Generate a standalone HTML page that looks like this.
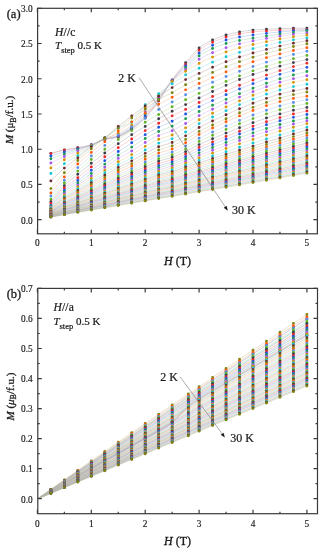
<!DOCTYPE html>
<html><head><meta charset="utf-8"><title>M vs H</title><style>html,body{margin:0;padding:0;background:#fff;width:322px;height:550px;overflow:hidden}svg{display:block}</style></head><body><svg width="322" height="550" viewBox="0 0 322 550" font-family="'Liberation Serif', 'Times New Roman', serif"><defs><filter id="bl" x="0" y="0" width="1" height="1" color-interpolation-filters="sRGB"><feGaussianBlur stdDeviation="0.35"/></filter></defs><g filter="url(#bl)"><rect width="322" height="550" fill="#fff"/><svg x="0" y="0" width="322" height="550" overflow="hidden"><defs><clipPath id="ca"><rect x="37.5" y="8.2" width="280" height="225.4"/></clipPath><clipPath id="cb"><rect x="37.7" y="288.2" width="279.8" height="225"/></clipPath></defs><g clip-path="url(#ca)"><g fill="none" stroke-width="0.5" stroke-opacity="0.8" opacity="0.5"><path d="M50.88 153.33C53.12 152.75 59.86 150.83 64.35 149.88C68.84 148.94 73.33 148.47 77.82 147.63C82.32 146.8 86.81 146.26 91.3 144.89C95.79 143.52 100.28 140.73 104.78 139.41C109.27 138.09 113.76 138.65 118.25 136.95C122.74 135.25 127.23 132.38 131.72 129.22C136.22 126.05 140.71 122.65 145.2 117.97C149.69 113.28 154.18 107.42 158.67 101.1C163.17 94.77 167.66 86.39 172.15 80.01C176.64 73.62 181.13 68.11 185.62 62.78C190.12 57.45 194.61 51.81 199.1 48.02C203.59 44.23 208.08 42.22 212.57 40.05C217.07 37.88 221.56 36.38 226.05 35.01C230.54 33.65 235.03 32.7 239.53 31.88C244.02 31.06 248.51 30.53 253 30.09C257.49 29.66 261.98 29.53 266.47 29.29C270.97 29.05 275.46 28.84 279.95 28.67C284.44 28.5 288.93 28.36 293.42 28.27C297.92 28.18 304.65 28.15 306.9 28.12" stroke="#3a3a46"/><path d="M50.88 153.61C53.12 153.02 59.86 151.02 64.35 150.1C68.84 149.17 73.33 148.92 77.82 148.06C82.32 147.2 86.81 146.41 91.3 144.94C95.79 143.47 100.28 140.62 104.78 139.23C109.27 137.84 113.76 138.31 118.25 136.6C122.74 134.88 127.23 132.18 131.72 128.96C136.22 125.73 140.71 121.99 145.2 117.27C149.69 112.54 154.18 106.76 158.67 100.58C163.17 94.4 167.66 86.19 172.15 80.18C176.64 74.18 181.13 69.54 185.62 64.54C190.12 59.54 194.61 53.91 199.1 50.2C203.59 46.48 208.08 44.43 212.57 42.25C217.07 40.07 221.56 38.52 226.05 37.12C230.54 35.72 235.03 34.71 239.53 33.85C244.02 32.98 248.51 32.4 253 31.92C257.49 31.44 261.98 31.26 266.47 30.98C270.97 30.71 275.46 30.45 279.95 30.25C284.44 30.05 288.93 29.88 293.42 29.77C297.92 29.66 304.65 29.63 306.9 29.6" stroke="#e8282c"/><path d="M50.88 155.93C53.12 155.29 59.86 153.27 64.35 152.06C68.84 150.86 73.33 149.86 77.82 148.69C82.32 147.52 86.81 146.64 91.3 145.03C95.79 143.43 100.28 140.52 104.78 139.06C109.27 137.59 113.76 138 118.25 136.25C122.74 134.49 127.23 131.91 131.72 128.51C136.22 125.12 140.71 120.66 145.2 115.86C149.69 111.06 154.18 105.61 158.67 99.69C163.17 93.77 167.66 85.98 172.15 80.36C176.64 74.73 181.13 70.46 185.62 65.95C190.12 61.44 194.61 56.74 199.1 53.29C203.59 49.84 208.08 47.48 212.57 45.25C217.07 43.02 221.56 41.31 226.05 39.94C230.54 38.56 235.03 37.82 239.53 37C244.02 36.18 248.51 35.62 253 35.01C257.49 34.41 261.98 33.88 266.47 33.36C270.97 32.85 275.46 32.34 279.95 31.91C284.44 31.48 288.93 31.08 293.42 30.77C297.92 30.47 304.65 30.21 306.9 30.09" stroke="#1f52e0"/><path d="M50.88 158.74C53.12 157.97 59.86 155.63 64.35 154.1C68.84 152.58 73.33 151.09 77.82 149.6C82.32 148.12 86.81 146.96 91.3 145.18C95.79 143.39 100.28 140.45 104.78 138.9C109.27 137.35 113.76 137.74 118.25 135.89C122.74 134.05 127.23 131.5 131.72 127.81C136.22 124.12 140.71 118.67 145.2 113.75C149.69 108.83 154.18 103.83 158.67 98.28C163.17 92.74 167.66 85.6 172.15 80.5C176.64 75.41 181.13 71.8 185.62 67.7C190.12 63.6 194.61 59.1 199.1 55.89C203.59 52.69 208.08 50.56 212.57 48.49C217.07 46.41 221.56 44.79 226.05 43.45C230.54 42.11 235.03 41.31 239.53 40.43C244.02 39.55 248.51 38.91 253 38.18C257.49 37.45 261.98 36.74 266.47 36.06C270.97 35.38 275.46 34.73 279.95 34.12C284.44 33.51 288.93 32.93 293.42 32.41C297.92 31.89 304.65 31.24 306.9 31.01" stroke="#1f9a52"/><path d="M50.88 162.96C53.12 161.88 59.86 158.51 64.35 156.49C68.84 154.48 73.33 152.72 77.82 150.87C82.32 149.02 86.81 147.41 91.3 145.38C95.79 143.36 100.28 140.35 104.78 138.71C109.27 137.07 113.76 137.48 118.25 135.54C122.74 133.61 127.23 131.09 131.72 127.11C136.22 123.12 140.71 116.68 145.2 111.64C149.69 106.6 154.18 102.03 158.67 96.88C163.17 91.72 167.66 85.28 172.15 80.71C176.64 76.14 181.13 73.03 185.62 69.46C190.12 65.89 194.61 62.07 199.1 59.27C203.59 56.46 208.08 54.56 212.57 52.63C217.07 50.69 221.56 49.13 226.05 47.67C230.54 46.21 235.03 45 239.53 43.87C244.02 42.75 248.51 41.83 253 40.92C257.49 40.01 261.98 39.21 266.47 38.42C270.97 37.62 275.46 36.85 279.95 36.16C284.44 35.47 288.93 34.83 293.42 34.28C297.92 33.74 304.65 33.13 306.9 32.91" stroke="#a656e6"/><path d="M50.88 167.88C53.12 166.52 59.86 162.19 64.35 159.73C68.84 157.27 73.33 155.46 77.82 153.12C82.32 150.78 86.81 148.13 91.3 145.67C95.79 143.21 100.28 140.39 104.78 138.36C109.27 136.32 113.76 135.66 118.25 133.43C122.74 131.21 127.23 129.22 131.72 125C136.22 120.78 140.71 113.05 145.2 108.13C149.69 103.2 154.18 99.92 158.67 95.47C163.17 91.02 167.66 85.45 172.15 81.41C176.64 77.37 181.13 74.22 185.62 71.22C190.12 68.22 194.61 65.77 199.1 63.42C203.59 61.06 208.08 59.01 212.57 57.09C217.07 55.17 221.56 53.43 226.05 51.89C230.54 50.34 235.03 49.04 239.53 47.81C244.02 46.58 248.51 45.53 253 44.5C257.49 43.48 261.98 42.55 266.47 41.64C270.97 40.72 275.46 39.84 279.95 39.03C284.44 38.22 288.93 37.45 293.42 36.78C297.92 36.11 304.65 35.31 306.9 35.01" stroke="#d09400"/><path d="M50.88 173.5C53.12 171.86 59.86 166.65 64.35 163.66C68.84 160.68 73.33 158.51 77.82 155.58C82.32 152.65 86.81 149.02 91.3 146.09C95.79 143.16 100.28 141.05 104.78 138C109.27 134.96 113.76 130.45 118.25 127.81C122.74 125.17 127.23 126.05 131.72 122.19C136.22 118.32 140.71 109.36 145.2 104.61C149.69 99.87 154.18 97.18 158.67 93.71C163.17 90.25 167.66 86.94 172.15 83.8C176.64 80.66 181.13 77.48 185.62 74.87C190.12 72.27 194.61 70.32 199.1 68.2C203.59 66.07 208.08 64.04 212.57 62.14C217.07 60.25 221.56 58.44 226.05 56.81C230.54 55.17 235.03 53.7 239.53 52.33C244.02 50.96 248.51 49.74 253 48.58C257.49 47.42 261.98 46.38 266.47 45.35C270.97 44.33 275.46 43.32 279.95 42.41C284.44 41.49 288.93 40.62 293.42 39.86C297.92 39.1 304.65 38.17 306.9 37.83" stroke="#16c6d0"/><path d="M50.88 180.89C53.12 178.75 59.86 171.93 64.35 168.09C68.84 164.25 73.33 161.38 77.82 157.83C82.32 154.28 86.81 150.15 91.3 146.79C95.79 143.43 100.28 141.05 104.78 137.65C109.27 134.25 113.76 130.04 118.25 126.4C122.74 122.77 127.23 119.26 131.72 115.86C136.22 112.46 140.71 109.3 145.2 106.02C149.69 102.74 154.18 99.24 158.67 96.17C163.17 93.11 167.66 90.36 172.15 87.6C176.64 84.83 181.13 81.95 185.62 79.58C190.12 77.22 194.61 75.44 199.1 73.4C203.59 71.35 208.08 69.25 212.57 67.3C217.07 65.36 221.56 63.44 226.05 61.73C230.54 60.02 235.03 58.5 239.53 57.04C244.02 55.59 248.51 54.28 253 53.01C257.49 51.74 261.98 50.58 266.47 49.42C270.97 48.27 275.46 47.15 279.95 46.11C284.44 45.06 288.93 44.06 293.42 43.15C297.92 42.23 304.65 41.06 306.9 40.64" stroke="#6c2c2c"/><path d="M50.88 188.62C53.12 185.98 59.86 177.48 64.35 172.8C68.84 168.13 73.33 164.55 77.82 160.57C82.32 156.59 86.81 152.6 91.3 148.9C95.79 145.2 100.28 141.75 104.78 138.36C109.27 134.96 113.76 131.91 118.25 128.51C122.74 125.12 127.23 121.19 131.72 117.97C136.22 114.75 140.71 112.23 145.2 109.18C149.69 106.13 154.18 102.44 158.67 99.69C163.17 96.94 167.66 95.14 172.15 92.66C176.64 90.18 181.13 87.13 185.62 84.79C190.12 82.44 194.61 80.66 199.1 78.6C203.59 76.54 208.08 74.41 212.57 72.41C217.07 70.42 221.56 68.44 226.05 66.65C230.54 64.86 235.03 63.22 239.53 61.66C244.02 60.1 248.51 58.67 253 57.3C257.49 55.92 261.98 54.66 266.47 53.42C270.97 52.17 275.46 50.95 279.95 49.81C284.44 48.67 288.93 47.57 293.42 46.57C297.92 45.57 304.65 44.26 306.9 43.8" stroke="#808410"/><path d="M50.88 192.91C53.12 190.26 59.86 181.84 64.35 177.02C68.84 172.2 73.33 168.12 77.82 164.01C82.32 159.91 86.81 156.13 91.3 152.41C95.79 148.7 100.28 145.24 104.78 141.73C109.27 138.21 113.76 134.64 118.25 131.32C122.74 128.01 127.23 124.88 131.72 121.83C136.22 118.79 140.71 115.98 145.2 113.05C149.69 110.12 154.18 106.88 158.67 104.26C163.17 101.63 167.66 99.7 172.15 97.3C176.64 94.9 181.13 92.14 185.62 89.85C190.12 87.55 194.61 85.56 199.1 83.52C203.59 81.48 208.08 79.54 212.57 77.59C217.07 75.64 221.56 73.68 226.05 71.83C230.54 69.98 235.03 68.16 239.53 66.49C244.02 64.82 248.51 63.27 253 61.8C257.49 60.33 261.98 58.99 266.47 57.67C270.97 56.35 275.46 55.07 279.95 53.88C284.44 52.69 288.93 51.56 293.42 50.53C297.92 49.49 304.65 48.14 306.9 47.67" stroke="#ff5a0a"/><path d="M50.88 196C53.12 193.39 59.86 185.06 64.35 180.32C68.84 175.59 73.33 171.67 77.82 167.6C82.32 163.53 86.81 159.63 91.3 155.93C95.79 152.23 100.28 148.9 104.78 145.38C109.27 141.87 113.76 137.93 118.25 134.84C122.74 131.75 127.23 129.58 131.72 126.83C136.22 124.07 140.71 121.2 145.2 118.32C149.69 115.44 154.18 112.26 158.67 109.53C163.17 106.8 167.66 104.4 172.15 101.94C176.64 99.48 181.13 97.07 185.62 94.77C190.12 92.47 194.61 90.26 199.1 88.16C203.59 86.07 208.08 84.14 212.57 82.2C217.07 80.27 221.56 78.36 226.05 76.54C230.54 74.72 235.03 72.95 239.53 71.28C244.02 69.6 248.51 68.03 253 66.51C257.49 64.99 261.98 63.56 266.47 62.16C270.97 60.76 275.46 59.41 279.95 58.12C284.44 56.84 288.93 55.6 293.42 54.45C297.92 53.29 304.65 51.73 306.9 51.18" stroke="#5c8ee0"/><path d="M50.88 199.31C53.12 196.58 59.86 187.62 64.35 182.93C68.84 178.23 73.33 175.03 77.82 171.11C82.32 167.2 86.81 163.1 91.3 159.44C95.79 155.79 100.28 152.51 104.78 149.18C109.27 145.85 113.76 142.57 118.25 139.48C122.74 136.39 127.23 133.5 131.72 130.62C136.22 127.74 140.71 124.88 145.2 122.19C149.69 119.49 154.18 117.03 158.67 114.45C163.17 111.88 167.66 109.18 172.15 106.72C176.64 104.26 181.13 101.92 185.62 99.69C190.12 97.46 194.61 95.43 199.1 93.36C203.59 91.3 208.08 89.31 212.57 87.32C217.07 85.32 221.56 83.31 226.05 81.39C230.54 79.48 235.03 77.58 239.53 75.83C244.02 74.08 248.51 72.43 253 70.87C257.49 69.3 261.98 67.85 266.47 66.43C270.97 65.01 275.46 63.64 279.95 62.34C284.44 61.04 288.93 59.79 293.42 58.64C297.92 57.48 304.65 55.94 306.9 55.4" stroke="#5eb424"/><path d="M50.88 201.7C53.12 199.02 59.86 190.21 64.35 185.63C68.84 181.05 73.33 177.93 77.82 174.21C82.32 170.49 86.81 166.85 91.3 163.31C95.79 159.77 100.28 156.26 104.78 152.98C109.27 149.7 113.76 146.69 118.25 143.63C122.74 140.57 127.23 137.5 131.72 134.63C136.22 131.76 140.71 129.04 145.2 126.4C149.69 123.77 154.18 121.34 158.67 118.81C163.17 116.28 167.66 113.59 172.15 111.22C176.64 108.85 181.13 106.83 185.62 104.61C190.12 102.4 194.61 100.11 199.1 97.93C203.59 95.76 208.08 93.67 212.57 91.57C217.07 89.47 221.56 87.35 226.05 85.34C230.54 83.34 235.03 81.36 239.53 79.56C244.02 77.75 248.51 76.09 253 74.52C257.49 72.95 261.98 71.53 266.47 70.13C270.97 68.73 275.46 67.38 279.95 66.13C284.44 64.87 288.93 63.68 293.42 62.59C297.92 61.51 304.65 60.11 306.9 59.62" stroke="#3a3a46"/><path d="M50.88 203.17C53.12 200.64 59.86 192.24 64.35 188.01C68.84 183.78 73.33 181.31 77.82 177.79C82.32 174.27 86.81 170.4 91.3 166.9C95.79 163.39 100.28 159.98 104.78 156.77C109.27 153.56 113.76 150.59 118.25 147.63C122.74 144.68 127.23 141.89 131.72 139.06C136.22 136.22 140.71 133.25 145.2 130.62C149.69 128 154.18 125.77 158.67 123.31C163.17 120.85 167.66 118.18 172.15 115.86C176.64 113.54 181.13 111.62 185.62 109.39C190.12 107.17 194.61 104.64 199.1 102.5C203.59 100.36 208.08 98.52 212.57 96.56C217.07 94.61 221.56 92.68 226.05 90.79C230.54 88.9 235.03 87.04 239.53 85.24C244.02 83.44 248.51 81.68 253 79.99C257.49 78.3 261.98 76.65 266.47 75.09C270.97 73.52 275.46 72.02 279.95 70.6C284.44 69.19 288.93 67.84 293.42 66.6C297.92 65.35 304.65 63.71 306.9 63.13" stroke="#e8282c"/><path d="M50.88 205.42C53.12 202.87 59.86 194.27 64.35 190.12C68.84 185.96 73.33 183.82 77.82 180.5C82.32 177.18 86.81 173.51 91.3 170.2C95.79 166.89 100.28 163.76 104.78 160.65C109.27 157.55 113.76 154.55 118.25 151.57C122.74 148.59 127.23 145.61 131.72 142.78C136.22 139.96 140.71 137.21 145.2 134.63C149.69 132.05 154.18 129.55 158.67 127.32C163.17 125.08 167.66 123.42 172.15 121.21C176.64 118.99 181.13 116.45 185.62 114.03C190.12 111.62 194.61 108.96 199.1 106.72C203.59 104.48 208.08 102.6 212.57 100.59C217.07 98.58 221.56 96.58 226.05 94.65C230.54 92.71 235.03 90.8 239.53 88.97C244.02 87.13 248.51 85.34 253 83.64C257.49 81.93 261.98 80.28 266.47 78.73C270.97 77.18 275.46 75.7 279.95 74.33C284.44 72.96 288.93 71.67 293.42 70.51C297.92 69.34 304.65 67.88 306.9 67.35" stroke="#1f52e0"/><path d="M50.88 206.32C53.12 203.93 59.86 195.9 64.35 192C68.84 188.09 73.33 186 77.82 182.92C82.32 179.84 86.81 176.64 91.3 173.5C95.79 170.37 100.28 167.17 104.78 164.14C109.27 161.1 113.76 158.14 118.25 155.3C122.74 152.46 127.23 149.88 131.72 147.08C136.22 144.28 140.71 141.1 145.2 138.5C149.69 135.89 154.18 133.52 158.67 131.47C163.17 129.41 167.66 128.28 172.15 126.15C176.64 124.01 181.13 121.12 185.62 118.67C190.12 116.22 194.61 113.66 199.1 111.43C203.59 109.2 208.08 107.31 212.57 105.3C217.07 103.28 221.56 101.28 226.05 99.34C230.54 97.4 235.03 95.49 239.53 93.64C244.02 91.8 248.51 90 253 88.28C257.49 86.55 261.98 84.88 266.47 83.31C270.97 81.73 275.46 80.22 279.95 78.82C284.44 77.42 288.93 76.09 293.42 74.88C297.92 73.67 304.65 72.12 306.9 71.57" stroke="#1f9a52"/><path d="M50.88 207.13C53.12 204.89 59.86 197.35 64.35 193.68C68.84 190.01 73.33 188.02 77.82 185.09C82.32 182.16 86.81 179.07 91.3 176.11C95.79 173.14 100.28 170.24 104.78 167.29C109.27 164.34 113.76 161.11 118.25 158.39C122.74 155.68 127.23 153.66 131.72 151C136.22 148.34 140.71 144.99 145.2 142.43C149.69 139.88 154.18 137.64 158.67 135.68C163.17 133.73 167.66 132.75 172.15 130.71C176.64 128.67 181.13 125.96 185.62 123.43C190.12 120.91 194.61 117.95 199.1 115.58C203.59 113.2 208.08 111.28 212.57 109.18C217.07 107.08 221.56 105 226.05 102.99C230.54 100.98 235.03 99 239.53 97.1C244.02 95.21 248.51 93.37 253 91.63C257.49 89.89 261.98 88.21 266.47 86.66C270.97 85.1 275.46 83.63 279.95 82.29C284.44 80.96 288.93 79.72 293.42 78.64C297.92 77.55 304.65 76.26 306.9 75.79" stroke="#a656e6"/><path d="M50.88 207.85C53.12 205.75 59.86 198.67 64.35 195.2C68.84 191.74 73.33 189.84 77.82 187.06C82.32 184.27 86.81 181.31 91.3 178.5C95.79 175.68 100.28 172.95 104.78 170.15C109.27 167.35 113.76 164.27 118.25 161.67C122.74 159.08 127.23 157.13 131.72 154.58C136.22 152.03 140.71 148.92 145.2 146.37C149.69 143.82 154.18 141.17 158.67 139.27C163.17 137.36 167.66 136.84 172.15 134.94C176.64 133.04 181.13 130.4 185.62 127.86C190.12 125.33 194.61 122.17 199.1 119.73C203.59 117.28 208.08 115.33 212.57 113.19C217.07 111.04 221.56 108.92 226.05 106.86C230.54 104.81 235.03 102.79 239.53 100.87C244.02 98.94 248.51 97.07 253 95.31C257.49 93.55 261.98 91.86 266.47 90.3C270.97 88.73 275.46 87.27 279.95 85.94C284.44 84.62 288.93 83.41 293.42 82.36C297.92 81.31 304.65 80.11 306.9 79.65" stroke="#d09400"/><path d="M50.88 208.51C53.12 206.52 59.86 199.86 64.35 196.59C68.84 193.31 73.33 191.49 77.82 188.84C82.32 186.2 86.81 183.39 91.3 180.71C95.79 178.03 100.28 175.43 104.78 172.76C109.27 170.09 113.76 167.16 118.25 164.68C122.74 162.19 127.23 160.31 131.72 157.86C136.22 155.41 140.71 152.44 145.2 149.99C149.69 147.54 154.18 144.99 158.67 143.14C163.17 141.28 167.66 140.71 172.15 138.85C176.64 137 181.13 134.53 185.62 131.99C190.12 129.45 194.61 126.09 199.1 123.59C203.59 121.09 208.08 119.16 212.57 117C217.07 114.85 221.56 112.7 226.05 110.64C230.54 108.58 235.03 106.55 239.53 104.62C244.02 102.7 248.51 100.83 253 99.08C257.49 97.34 261.98 95.67 266.47 94.15C270.97 92.62 275.46 91.2 279.95 89.94C284.44 88.68 288.93 87.54 293.42 86.59C297.92 85.64 304.65 84.62 306.9 84.22" stroke="#16c6d0"/><path d="M50.88 209.11C53.12 207.23 59.86 200.95 64.35 197.84C68.84 194.74 73.33 192.99 77.82 190.47C82.32 187.95 86.81 185.28 91.3 182.73C95.79 180.18 100.28 177.69 104.78 175.14C109.27 172.59 113.76 169.81 118.25 167.43C122.74 165.05 127.23 163.22 131.72 160.87C136.22 158.52 140.71 155.69 145.2 153.33C149.69 150.97 154.18 148.52 158.67 146.71C163.17 144.9 167.66 144.3 172.15 142.49C176.64 140.68 181.13 138.33 185.62 135.84C190.12 133.34 194.61 130 199.1 127.53C203.59 125.06 208.08 123.14 212.57 121C217.07 118.86 221.56 116.74 226.05 114.69C230.54 112.65 235.03 110.64 239.53 108.73C244.02 106.82 248.51 104.97 253 103.23C257.49 101.5 261.98 99.85 266.47 98.33C270.97 96.82 275.46 95.41 279.95 94.15C284.44 92.9 288.93 91.76 293.42 90.81C297.92 89.86 304.65 88.84 306.9 88.44" stroke="#6c2c2c"/><path d="M50.88 209.66C53.12 207.88 59.86 201.94 64.35 198.99C68.84 196.04 73.33 194.36 77.82 191.96C82.32 189.56 86.81 187.02 91.3 184.58C95.79 182.14 100.28 179.77 104.78 177.34C109.27 174.9 113.76 172.24 118.25 169.96C122.74 167.68 127.23 165.91 131.72 163.66C136.22 161.4 140.71 158.69 145.2 156.42C149.69 154.14 154.18 151.78 158.67 150.03C163.17 148.27 167.66 147.64 172.15 145.88C176.64 144.11 181.13 141.84 185.62 139.42C190.12 137.01 194.61 133.81 199.1 131.4C203.59 128.98 208.08 127.06 212.57 124.95C217.07 122.84 221.56 120.74 226.05 118.72C230.54 116.7 235.03 114.71 239.53 112.81C244.02 110.92 248.51 109.07 253 107.34C257.49 105.6 261.98 103.94 266.47 102.4C270.97 100.87 275.46 99.42 279.95 98.12C284.44 96.82 288.93 95.63 293.42 94.6C297.92 93.58 304.65 92.4 306.9 91.96" stroke="#808410"/><path d="M50.88 210.16C53.12 208.48 59.86 202.86 64.35 200.05C68.84 197.24 73.33 195.62 77.82 193.33C82.32 191.04 86.81 188.62 91.3 186.29C95.79 183.96 100.28 181.69 104.78 179.35C109.27 177.02 113.76 174.49 118.25 172.3C122.74 170.11 127.23 168.4 131.72 166.23C136.22 164.06 140.71 161.47 145.2 159.28C149.69 157.09 154.18 154.82 158.67 153.11C163.17 151.4 167.66 150.75 172.15 149.03C176.64 147.31 181.13 145.2 185.62 142.78C190.12 140.36 194.61 136.95 199.1 134.49C203.59 132.03 208.08 130.15 212.57 128.03C217.07 125.91 221.56 123.81 226.05 121.79C230.54 119.77 235.03 117.78 239.53 115.9C244.02 114.01 248.51 112.19 253 110.48C257.49 108.78 261.98 107.16 266.47 105.67C270.97 104.19 275.46 102.81 279.95 101.6C284.44 100.39 288.93 99.3 293.42 98.39C297.92 97.49 304.65 96.54 306.9 96.17" stroke="#ff5a0a"/><path d="M50.88 210.63C53.12 209.03 59.86 203.7 64.35 201.02C68.84 198.35 73.33 196.79 77.82 194.59C82.32 192.4 86.81 190.09 91.3 187.86C95.79 185.63 100.28 183.45 104.78 181.22C109.27 178.99 113.76 176.56 118.25 174.46C122.74 172.36 127.23 170.7 131.72 168.61C136.22 166.53 140.71 164.04 145.2 161.94C149.69 159.83 154.18 157.64 158.67 155.98C163.17 154.32 167.66 153.65 172.15 151.97C176.64 150.3 181.13 148.2 185.62 145.92C190.12 143.64 194.61 140.59 199.1 138.28C203.59 135.98 208.08 134.11 212.57 132.07C217.07 130.04 221.56 128.02 226.05 126.06C230.54 124.11 235.03 122.19 239.53 120.35C244.02 118.51 248.51 116.72 253 115.03C257.49 113.34 261.98 111.72 266.47 110.21C270.97 108.7 275.46 107.28 279.95 105.98C284.44 104.69 288.93 103.49 293.42 102.44C297.92 101.39 304.65 100.15 306.9 99.69" stroke="#5c8ee0"/><path d="M50.88 211.06C53.12 209.53 59.86 204.47 64.35 201.92C68.84 199.38 73.33 197.86 77.82 195.76C82.32 193.66 86.81 191.45 91.3 189.32C95.79 187.18 100.28 185.09 104.78 182.95C109.27 180.81 113.76 178.49 118.25 176.47C122.74 174.45 127.23 172.84 131.72 170.83C136.22 168.82 140.71 166.44 145.2 164.41C149.69 162.38 154.18 160.27 158.67 158.65C163.17 157.04 167.66 156.36 172.15 154.73C176.64 153.09 181.13 151.09 185.62 148.86C190.12 146.64 194.61 143.64 199.1 141.38C203.59 139.12 208.08 137.29 212.57 135.29C217.07 133.29 221.56 131.31 226.05 129.4C230.54 127.48 235.03 125.6 239.53 123.8C244.02 122 248.51 120.24 253 118.59C257.49 116.93 261.98 115.34 266.47 113.86C270.97 112.38 275.46 110.99 279.95 109.72C284.44 108.45 288.93 107.28 293.42 106.25C297.92 105.22 304.65 104.01 306.9 103.56" stroke="#5eb424"/><path d="M50.88 211.45C53.12 210 59.86 205.19 64.35 202.76C68.84 200.32 73.33 198.86 77.82 196.84C82.32 194.83 86.81 192.72 91.3 190.67C95.79 188.62 100.28 186.61 104.78 184.56C109.27 182.5 113.76 180.28 118.25 178.34C122.74 176.4 127.23 174.83 131.72 172.9C136.22 170.96 140.71 168.68 145.2 166.73C149.69 164.77 154.18 162.73 158.67 161.16C163.17 159.59 167.66 158.89 172.15 157.31C176.64 155.72 181.13 153.74 185.62 151.63C190.12 149.51 194.61 146.75 199.1 144.61C203.59 142.47 208.08 140.69 212.57 138.77C217.07 136.86 221.56 134.96 226.05 133.11C230.54 131.27 235.03 129.46 239.53 127.72C244.02 125.97 248.51 124.27 253 122.66C257.49 121.04 261.98 119.48 266.47 118.02C270.97 116.56 275.46 115.16 279.95 113.88C284.44 112.6 288.93 111.4 293.42 110.32C297.92 109.25 304.65 107.91 306.9 107.42" stroke="#3a3a46"/><path d="M50.88 211.82C53.12 210.44 59.86 205.86 64.35 203.53C68.84 201.21 73.33 199.79 77.82 197.85C82.32 195.92 86.81 193.89 91.3 191.93C95.79 189.96 100.28 188.03 104.78 186.05C109.27 184.08 113.76 181.95 118.25 180.08C122.74 178.21 127.23 176.69 131.72 174.83C136.22 172.96 140.71 170.77 145.2 168.89C149.69 167 154.18 165.03 158.67 163.5C163.17 161.98 167.66 161.27 172.15 159.73C176.64 158.18 181.13 156.25 185.62 154.23C190.12 152.2 194.61 149.61 199.1 147.56C203.59 145.51 208.08 143.78 212.57 141.92C217.07 140.07 221.56 138.23 226.05 136.45C230.54 134.66 235.03 132.91 239.53 131.21C244.02 129.51 248.51 127.86 253 126.28C257.49 124.69 261.98 123.16 266.47 121.71C270.97 120.26 275.46 118.88 279.95 117.59C284.44 116.3 288.93 115.08 293.42 113.97C297.92 112.87 304.65 111.44 306.9 110.94" stroke="#e8282c"/><path d="M50.88 212.17C53.12 210.85 59.86 206.49 64.35 204.26C68.84 202.03 73.33 200.65 77.82 198.79C82.32 196.93 86.81 194.99 91.3 193.1C95.79 191.21 100.28 189.35 104.78 187.45C109.27 185.55 113.76 183.52 118.25 181.71C122.74 179.91 127.23 178.43 131.72 176.63C136.22 174.83 140.71 172.73 145.2 170.91C149.69 169.09 154.18 167.19 158.67 165.7C163.17 164.22 167.66 163.5 172.15 162C176.64 160.5 181.13 158.66 185.62 156.67C190.12 154.69 194.61 152.11 199.1 150.1C203.59 148.08 208.08 146.38 212.57 144.56C217.07 142.75 221.56 140.95 226.05 139.2C230.54 137.45 235.03 135.73 239.53 134.07C244.02 132.41 248.51 130.79 253 129.25C257.49 127.71 261.98 126.21 266.47 124.81C270.97 123.4 275.46 122.06 279.95 120.81C284.44 119.57 288.93 118.4 293.42 117.34C297.92 116.28 304.65 114.93 306.9 114.45" stroke="#1f52e0"/><path d="M50.88 212.49C53.12 211.23 59.86 207.07 64.35 204.93C68.84 202.8 73.33 201.46 77.82 199.67C82.32 197.88 86.81 196.02 91.3 194.2C95.79 192.38 100.28 190.59 104.78 188.76C109.27 186.93 113.76 184.98 118.25 183.24C122.74 181.5 127.23 180.06 131.72 178.33C136.22 176.59 140.71 174.57 145.2 172.81C149.69 171.05 154.18 169.22 158.67 167.77C163.17 166.33 167.66 165.61 172.15 164.14C176.64 162.68 181.13 160.87 185.62 158.98C190.12 157.1 194.61 154.74 199.1 152.84C203.59 150.93 208.08 149.29 212.57 147.56C217.07 145.82 221.56 144.1 226.05 142.43C230.54 140.75 235.03 139.1 239.53 137.5C244.02 135.9 248.51 134.34 253 132.84C257.49 131.34 261.98 129.88 266.47 128.5C270.97 127.11 275.46 125.78 279.95 124.53C284.44 123.28 288.93 122.1 293.42 121C297.92 119.91 304.65 118.47 306.9 117.97" stroke="#1f9a52"/><path d="M50.88 212.79C53.12 211.58 59.86 207.62 64.35 205.57C68.84 203.52 73.33 202.22 77.82 200.49C82.32 198.77 86.81 196.98 91.3 195.23C95.79 193.48 100.28 191.75 104.78 189.99C109.27 188.23 113.76 186.35 118.25 184.67C122.74 182.99 127.23 181.59 131.72 179.92C136.22 178.24 140.71 176.3 145.2 174.6C149.69 172.9 154.18 171.13 158.67 169.72C163.17 168.31 167.66 167.59 172.15 166.16C176.64 164.73 181.13 162.96 185.62 161.16C190.12 159.36 194.61 157.18 199.1 155.37C203.59 153.55 208.08 151.95 212.57 150.27C217.07 148.6 221.56 146.93 226.05 145.31C230.54 143.68 235.03 142.08 239.53 140.52C244.02 138.96 248.51 137.43 253 135.95C257.49 134.47 261.98 133.03 266.47 131.64C270.97 130.26 275.46 128.92 279.95 127.65C284.44 126.38 288.93 125.16 293.42 124.01C297.92 122.87 304.65 121.32 306.9 120.78" stroke="#a656e6"/><path d="M50.88 213.07C53.12 211.92 59.86 208.13 64.35 206.16C68.84 204.19 73.33 202.93 77.82 201.27C82.32 199.6 86.81 197.88 91.3 196.2C95.79 194.51 100.28 192.84 104.78 191.14C109.27 189.44 113.76 187.64 118.25 186.02C122.74 184.4 127.23 183.03 131.72 181.41C136.22 179.79 140.71 177.93 145.2 176.29C149.69 174.64 154.18 172.93 158.67 171.56C163.17 170.19 167.66 169.46 172.15 168.07C176.64 166.68 181.13 164.9 185.62 163.22C190.12 161.54 194.61 159.65 199.1 157.97C203.59 156.29 208.08 154.74 212.57 153.15C217.07 151.57 221.56 149.99 226.05 148.43C230.54 146.88 235.03 145.34 239.53 143.83C244.02 142.32 248.51 140.83 253 139.38C257.49 137.92 261.98 136.49 266.47 135.1C270.97 133.71 275.46 132.35 279.95 131.03C284.44 129.71 288.93 128.42 293.42 127.18C297.92 125.94 304.65 124.19 306.9 123.59" stroke="#d09400"/><path d="M50.88 213.34C53.12 212.23 59.86 208.61 64.35 206.72C68.84 204.83 73.33 203.59 77.82 201.99C82.32 200.39 86.81 198.73 91.3 197.11C95.79 195.48 100.28 193.86 104.78 192.23C109.27 190.59 113.76 188.85 118.25 187.29C122.74 185.72 127.23 184.39 131.72 182.82C136.22 181.25 140.71 179.46 145.2 177.88C149.69 176.29 154.18 174.62 158.67 173.29C163.17 171.96 167.66 171.22 172.15 169.87C176.64 168.52 181.13 166.73 185.62 165.17C190.12 163.61 194.61 162.02 199.1 160.5C203.59 158.98 208.08 157.52 212.57 156.05C217.07 154.57 221.56 153.11 226.05 151.65C230.54 150.2 235.03 148.75 239.53 147.32C244.02 145.89 248.51 144.47 253 143.07C257.49 141.66 261.98 140.27 266.47 138.9C270.97 137.53 275.46 136.18 279.95 134.85C284.44 133.52 288.93 132.2 293.42 130.91C297.92 129.62 304.65 127.74 306.9 127.11" stroke="#16c6d0"/><path d="M50.88 213.59C53.12 212.53 59.86 209.06 64.35 207.24C68.84 205.42 73.33 204.22 77.82 202.68C82.32 201.13 86.81 199.53 91.3 197.96C95.79 196.39 100.28 194.83 104.78 193.25C109.27 191.67 113.76 190 118.25 188.48C122.74 186.97 127.23 185.67 131.72 184.16C136.22 182.64 140.71 180.91 145.2 179.38C149.69 177.84 154.18 176.23 158.67 174.93C163.17 173.63 167.66 172.89 172.15 171.58C176.64 170.26 181.13 168.49 185.62 167.02C190.12 165.55 194.61 164.16 199.1 162.75C203.59 161.34 208.08 159.95 212.57 158.55C217.07 157.16 221.56 155.76 226.05 154.37C230.54 152.98 235.03 151.6 239.53 150.22C244.02 148.84 248.51 147.46 253 146.09C257.49 144.72 261.98 143.35 266.47 141.99C270.97 140.63 275.46 139.27 279.95 137.93C284.44 136.58 288.93 135.23 293.42 133.9C297.92 132.57 304.65 130.58 306.9 129.92" stroke="#6c2c2c"/><path d="M50.88 213.82C53.12 212.81 59.86 209.49 64.35 207.74C68.84 205.99 73.33 204.82 77.82 203.32C82.32 201.83 86.81 200.29 91.3 198.77C95.79 197.26 100.28 195.74 104.78 194.22C109.27 192.69 113.76 191.08 118.25 189.61C122.74 188.15 127.23 186.88 131.72 185.42C136.22 183.95 140.71 182.29 145.2 180.8C149.69 179.31 154.18 177.75 158.67 176.48C163.17 175.22 167.66 174.48 172.15 173.19C176.64 171.91 181.13 170.2 185.62 168.77C190.12 167.34 194.61 165.99 199.1 164.62C203.59 163.25 208.08 161.9 212.57 160.54C217.07 159.19 221.56 157.83 226.05 156.48C230.54 155.13 235.03 153.79 239.53 152.44C244.02 151.1 248.51 149.76 253 148.43C257.49 147.1 261.98 145.77 266.47 144.45C270.97 143.13 275.46 141.81 279.95 140.5C284.44 139.19 288.93 137.89 293.42 136.6C297.92 135.3 304.65 133.38 306.9 132.73" stroke="#808410"/><path d="M50.88 214.04C53.12 213.07 59.86 209.89 64.35 208.21C68.84 206.52 73.33 205.38 77.82 203.93C82.32 202.49 86.81 201 91.3 199.54C95.79 198.07 100.28 196.61 104.78 195.13C109.27 193.66 113.76 192.11 118.25 190.68C122.74 189.26 127.23 188.03 131.72 186.61C136.22 185.19 140.71 183.59 145.2 182.15C149.69 180.7 154.18 179.19 158.67 177.96C163.17 176.72 167.66 175.98 172.15 174.73C176.64 173.48 181.13 171.82 185.62 170.44C190.12 169.05 194.61 167.73 199.1 166.4C203.59 165.07 208.08 163.76 212.57 162.44C217.07 161.13 221.56 159.81 226.05 158.51C230.54 157.2 235.03 155.89 239.53 154.59C244.02 153.29 248.51 152 253 150.71C257.49 149.42 261.98 148.13 266.47 146.86C270.97 145.58 275.46 144.31 279.95 143.04C284.44 141.78 288.93 140.52 293.42 139.27C297.92 138.02 304.65 136.16 306.9 135.54" stroke="#ff5a0a"/><path d="M50.88 214.25C53.12 213.32 59.86 210.28 64.35 208.65C68.84 207.03 73.33 205.91 77.82 204.51C82.32 203.11 86.81 201.68 91.3 200.26C95.79 198.84 100.28 197.43 104.78 196C109.27 194.57 113.76 193.08 118.25 191.7C122.74 190.32 127.23 189.12 131.72 187.74C136.22 186.36 140.71 184.82 145.2 183.42C149.69 182.03 154.18 180.56 158.67 179.36C163.17 178.15 167.66 177.41 172.15 176.19C176.64 174.97 181.13 173.37 185.62 172.02C190.12 170.67 194.61 169.39 199.1 168.1C203.59 166.8 208.08 165.53 212.57 164.24C217.07 162.96 221.56 161.68 226.05 160.41C230.54 159.13 235.03 157.86 239.53 156.59C244.02 155.33 248.51 154.06 253 152.81C257.49 151.55 261.98 150.3 266.47 149.05C270.97 147.8 275.46 146.56 279.95 145.33C284.44 144.09 288.93 142.87 293.42 141.64C297.92 140.42 304.65 138.61 306.9 138" stroke="#5c8ee0"/><path d="M50.88 214.45C53.12 213.56 59.86 210.64 64.35 209.07C68.84 207.51 73.33 206.41 77.82 205.06C82.32 203.7 86.81 202.32 91.3 200.95C95.79 199.58 100.28 198.2 104.78 196.82C109.27 195.44 113.76 194 118.25 192.66C122.74 191.33 127.23 190.15 131.72 188.81C136.22 187.48 140.71 185.99 145.2 184.64C149.69 183.28 154.18 181.87 158.67 180.69C163.17 179.51 167.66 178.77 172.15 177.58C176.64 176.38 181.13 174.84 185.62 173.53C190.12 172.22 194.61 170.97 199.1 169.71C203.59 168.45 208.08 167.21 212.57 165.97C217.07 164.72 221.56 163.48 226.05 162.24C230.54 161 235.03 159.76 239.53 158.53C244.02 157.3 248.51 156.07 253 154.85C257.49 153.63 261.98 152.41 266.47 151.2C270.97 149.98 275.46 148.78 279.95 147.58C284.44 146.38 288.93 145.19 293.42 144C297.92 142.81 304.65 141.05 306.9 140.46" stroke="#5eb424"/><path d="M50.88 214.64C53.12 213.78 59.86 210.98 64.35 209.47C68.84 207.96 73.33 206.89 77.82 205.58C82.32 204.27 86.81 202.93 91.3 201.6C95.79 200.27 100.28 198.94 104.78 197.6C109.27 196.26 113.76 194.87 118.25 193.58C122.74 192.28 127.23 191.13 131.72 189.84C136.22 188.54 140.71 187.11 145.2 185.79C149.69 184.48 154.18 183.1 158.67 181.96C163.17 180.81 167.66 180.06 172.15 178.9C176.64 177.74 181.13 176.24 185.62 174.97C190.12 173.69 194.61 172.48 199.1 171.25C203.59 170.03 208.08 168.83 212.57 167.62C217.07 166.41 221.56 165.21 226.05 164C230.54 162.8 235.03 161.61 239.53 160.41C244.02 159.22 248.51 158.03 253 156.85C257.49 155.67 261.98 154.49 266.47 153.33C270.97 152.16 275.46 150.99 279.95 149.84C284.44 148.68 288.93 147.53 293.42 146.39C297.92 145.25 304.65 143.56 306.9 142.99" stroke="#3a3a46"/><path d="M50.88 214.82C53.12 213.99 59.86 211.31 64.35 209.85C68.84 208.39 73.33 207.34 77.82 206.07C82.32 204.8 86.81 203.51 91.3 202.22C95.79 200.93 100.28 199.64 104.78 198.34C109.27 197.05 113.76 195.7 118.25 194.45C122.74 193.19 127.23 192.07 131.72 190.81C136.22 189.55 140.71 188.17 145.2 186.89C149.69 185.62 154.18 184.28 158.67 183.16C163.17 182.04 167.66 181.3 172.15 180.16C176.64 179.02 181.13 177.58 185.62 176.34C190.12 175.1 194.61 173.92 199.1 172.73C203.59 171.53 208.08 170.36 212.57 169.17C217.07 167.99 221.56 166.81 226.05 165.64C230.54 164.46 235.03 163.29 239.53 162.12C244.02 160.95 248.51 159.79 253 158.63C257.49 157.47 261.98 156.31 266.47 155.16C270.97 154.01 275.46 152.87 279.95 151.73C284.44 150.59 288.93 149.45 293.42 148.33C297.92 147.2 304.65 145.52 306.9 144.96" stroke="#e8282c"/><path d="M50.88 214.99C53.12 214.2 59.86 211.62 64.35 210.21C68.84 208.8 73.33 207.78 77.82 206.54C82.32 205.31 86.81 204.06 91.3 202.81C95.79 201.56 100.28 200.31 104.78 199.05C109.27 197.79 113.76 196.5 118.25 195.28C122.74 194.06 127.23 192.96 131.72 191.74C136.22 190.51 140.71 189.18 145.2 187.94C149.69 186.71 154.18 185.41 158.67 184.31C163.17 183.22 167.66 182.47 172.15 181.36C176.64 180.25 181.13 178.86 185.62 177.65C190.12 176.45 194.61 175.3 199.1 174.13C203.59 172.97 208.08 171.82 212.57 170.67C217.07 169.52 221.56 168.37 226.05 167.23C230.54 166.08 235.03 164.94 239.53 163.8C244.02 162.66 248.51 161.53 253 160.4C257.49 159.27 261.98 158.14 266.47 157.02C270.97 155.9 275.46 154.78 279.95 153.67C284.44 152.56 288.93 151.45 293.42 150.35C297.92 149.25 304.65 147.62 306.9 147.07" stroke="#1f52e0"/><path d="M50.88 215.16C53.12 214.39 59.86 211.92 64.35 210.56C68.84 209.19 73.33 208.19 77.82 206.99C82.32 205.8 86.81 204.59 91.3 203.38C95.79 202.17 100.28 200.94 104.78 199.73C109.27 198.51 113.76 197.25 118.25 196.07C122.74 194.89 127.23 193.81 131.72 192.62C136.22 191.43 140.71 190.14 145.2 188.94C149.69 187.74 154.18 186.48 158.67 185.41C163.17 184.34 167.66 183.6 172.15 182.51C176.64 181.43 181.13 180.08 185.62 178.9C190.12 177.73 194.61 176.61 199.1 175.48C203.59 174.35 208.08 173.23 212.57 172.1C217.07 170.98 221.56 169.86 226.05 168.74C230.54 167.62 235.03 166.5 239.53 165.39C244.02 164.28 248.51 163.17 253 162.06C257.49 160.96 261.98 159.85 266.47 158.75C270.97 157.66 275.46 156.56 279.95 155.47C284.44 154.38 288.93 153.3 293.42 152.22C297.92 151.14 304.65 149.53 306.9 148.99" stroke="#1f9a52"/><path d="M50.88 215.31C53.12 214.58 59.86 212.2 64.35 210.88C68.84 209.57 73.33 208.58 77.82 207.42C82.32 206.26 86.81 205.09 91.3 203.91C95.79 202.74 100.28 201.55 104.78 200.37C109.27 199.19 113.76 197.98 118.25 196.82C122.74 195.67 127.23 194.62 131.72 193.46C136.22 192.31 140.71 191.07 145.2 189.9C149.69 188.73 154.18 187.51 158.67 186.46C163.17 185.42 167.66 184.67 172.15 183.61C176.64 182.55 181.13 181.24 185.62 180.1C190.12 178.96 194.61 177.87 199.1 176.77C203.59 175.66 208.08 174.57 212.57 173.47C217.07 172.38 221.56 171.28 226.05 170.19C230.54 169.09 235.03 168 239.53 166.92C244.02 165.83 248.51 164.74 253 163.66C257.49 162.58 261.98 161.5 266.47 160.42C270.97 159.35 275.46 158.27 279.95 157.2C284.44 156.14 288.93 155.07 293.42 154.01C297.92 152.95 304.65 151.37 306.9 150.84" stroke="#a656e6"/><path d="M50.88 215.46C53.12 214.75 59.86 212.47 64.35 211.2C68.84 209.92 73.33 208.96 77.82 207.83C82.32 206.7 86.81 205.57 91.3 204.43C95.79 203.29 100.28 202.13 104.78 200.98C109.27 199.84 113.76 198.67 118.25 197.55C122.74 196.43 127.23 195.39 131.72 194.27C136.22 193.15 140.71 191.95 145.2 190.82C149.69 189.68 154.18 188.49 158.67 187.47C163.17 186.45 167.66 185.7 172.15 184.67C176.64 183.63 181.13 182.36 185.62 181.25C190.12 180.14 194.61 179.08 199.1 178C203.59 176.92 208.08 175.86 212.57 174.79C217.07 173.71 221.56 172.64 226.05 171.58C230.54 170.51 235.03 169.44 239.53 168.38C244.02 167.32 248.51 166.25 253 165.19C257.49 164.14 261.98 163.08 266.47 162.02C270.97 160.97 275.46 159.92 279.95 158.87C284.44 157.82 288.93 156.78 293.42 155.74C297.92 154.69 304.65 153.14 306.9 152.62" stroke="#d09400"/><path d="M50.88 215.6C53.12 214.92 59.86 212.73 64.35 211.5C68.84 210.27 73.33 209.32 77.82 208.22C82.32 207.12 86.81 206.03 91.3 204.92C95.79 203.81 100.28 202.69 104.78 201.57C109.27 200.46 113.76 199.33 118.25 198.24C122.74 197.15 127.23 196.14 131.72 195.04C136.22 193.95 140.71 192.79 145.2 191.69C149.69 190.59 154.18 189.44 158.67 188.43C163.17 187.43 167.66 186.69 172.15 185.68C176.64 184.66 181.13 183.43 185.62 182.35C190.12 181.27 194.61 180.24 199.1 179.19C203.59 178.14 208.08 177.09 212.57 176.05C217.07 175 221.56 173.95 226.05 172.91C230.54 171.87 235.03 170.83 239.53 169.79C244.02 168.75 248.51 167.71 253 166.67C257.49 165.63 261.98 164.6 266.47 163.57C270.97 162.53 275.46 161.5 279.95 160.48C284.44 159.45 288.93 158.42 293.42 157.4C297.92 156.38 304.65 154.85 306.9 154.34" stroke="#16c6d0"/><path d="M50.88 215.74C53.12 215.08 59.86 212.97 64.35 211.78C68.84 210.59 73.33 209.66 77.82 208.59C82.32 207.53 86.81 206.46 91.3 205.39C95.79 204.31 100.28 203.22 104.78 202.13C109.27 201.05 113.76 199.96 118.25 198.9C122.74 197.84 127.23 196.85 131.72 195.78C136.22 194.72 140.71 193.6 145.2 192.53C149.69 191.46 154.18 190.34 158.67 189.36C163.17 188.37 167.66 187.63 172.15 186.64C176.64 185.65 181.13 184.46 185.62 183.41C190.12 182.36 194.61 181.35 199.1 180.32C203.59 179.3 208.08 178.28 212.57 177.26C217.07 176.23 221.56 175.21 226.05 174.19C230.54 173.17 235.03 172.16 239.53 171.14C244.02 170.12 248.51 169.11 253 168.09C257.49 167.08 261.98 166.06 266.47 165.05C270.97 164.04 275.46 163.03 279.95 162.02C284.44 161.01 288.93 160.01 293.42 159C297.92 158 304.65 156.5 306.9 156" stroke="#6c2c2c"/><path d="M50.88 215.87C53.12 215.24 59.86 213.21 64.35 212.06C68.84 210.9 73.33 209.99 77.82 208.95C82.32 207.92 86.81 206.88 91.3 205.84C95.79 204.79 100.28 203.73 104.78 202.67C109.27 201.62 113.76 200.56 118.25 199.53C122.74 198.5 127.23 197.53 131.72 196.49C136.22 195.46 140.71 194.38 145.2 193.34C149.69 192.29 154.18 191.2 158.67 190.24C163.17 189.28 167.66 188.54 172.15 187.57C176.64 186.6 181.13 185.45 185.62 184.42C190.12 183.4 194.61 182.42 199.1 181.41C203.59 180.41 208.08 179.42 212.57 178.42C217.07 177.42 221.56 176.42 226.05 175.43C230.54 174.43 235.03 173.44 239.53 172.44C244.02 171.45 248.51 170.45 253 169.46C257.49 168.47 261.98 167.47 266.47 166.48C270.97 165.49 275.46 164.5 279.95 163.51C284.44 162.52 288.93 161.54 293.42 160.55C297.92 159.56 304.65 158.09 306.9 157.6" stroke="#808410"/><path d="M50.88 216C53.12 215.38 59.86 213.44 64.35 212.32C68.84 211.2 73.33 210.3 77.82 209.3C82.32 208.29 86.81 207.29 91.3 206.27C95.79 205.25 100.28 204.21 104.78 203.19C109.27 202.17 113.76 201.14 118.25 200.14C122.74 199.14 127.23 198.18 131.72 197.17C136.22 196.17 140.71 195.12 145.2 194.11C149.69 193.09 154.18 192.03 158.67 191.09C163.17 190.15 167.66 189.41 172.15 188.46C176.64 187.51 181.13 186.4 185.62 185.4C190.12 184.4 194.61 183.44 199.1 182.46C203.59 181.49 208.08 180.51 212.57 179.54C217.07 178.56 221.56 177.59 226.05 176.61C230.54 175.64 235.03 174.67 239.53 173.69C244.02 172.72 248.51 171.75 253 170.78C257.49 169.8 261.98 168.83 266.47 167.86C270.97 166.89 275.46 165.92 279.95 164.95C284.44 163.98 288.93 163.01 293.42 162.04C297.92 161.08 304.65 159.63 306.9 159.14" stroke="#ff5a0a"/><path d="M50.88 216.12C53.12 215.52 59.86 213.65 64.35 212.57C68.84 211.49 73.33 210.61 77.82 209.62C82.32 208.64 86.81 207.67 91.3 206.68C95.79 205.69 100.28 204.68 104.78 203.69C109.27 202.7 113.76 201.7 118.25 200.72C122.74 199.75 127.23 198.81 131.72 197.83C136.22 196.85 140.71 195.84 145.2 194.85C149.69 193.86 154.18 192.83 158.67 191.91C163.17 190.99 167.66 190.25 172.15 189.32C176.64 188.39 181.13 187.31 185.62 186.33C190.12 185.36 194.61 184.43 199.1 183.47C203.59 182.52 208.08 181.57 212.57 180.61C217.07 179.66 221.56 178.71 226.05 177.76C230.54 176.81 235.03 175.85 239.53 174.9C244.02 173.95 248.51 173 253 172.04C257.49 171.09 261.98 170.14 266.47 169.19C270.97 168.24 275.46 167.29 279.95 166.34C284.44 165.39 288.93 164.44 293.42 163.49C297.92 162.53 304.65 161.11 306.9 160.63" stroke="#5c8ee0"/><path d="M50.88 216.23C53.12 215.66 59.86 213.86 64.35 212.82C68.84 211.77 73.33 210.9 77.82 209.94C82.32 208.99 86.81 208.04 91.3 207.08C95.79 206.12 100.28 205.13 104.78 204.17C109.27 203.2 113.76 202.24 118.25 201.29C122.74 200.33 127.23 199.41 131.72 198.46C136.22 197.5 140.71 196.52 145.2 195.56C149.69 194.6 154.18 193.6 158.67 192.69C163.17 191.79 167.66 191.05 172.15 190.14C176.64 189.23 181.13 188.19 185.62 187.24C190.12 186.29 194.61 185.38 199.1 184.44C203.59 183.51 208.08 182.58 212.57 181.65C217.07 180.72 221.56 179.79 226.05 178.86C230.54 177.93 235.03 177 239.53 176.06C244.02 175.13 248.51 174.2 253 173.27C257.49 172.34 261.98 171.41 266.47 170.47C270.97 169.54 275.46 168.61 279.95 167.68C284.44 166.74 288.93 165.81 293.42 164.88C297.92 163.94 304.65 162.54 306.9 162.08" stroke="#5eb424"/><path d="M50.88 216.34C53.12 215.79 59.86 214.06 64.35 213.05C68.84 212.03 73.33 211.18 77.82 210.25C82.32 209.31 86.81 208.4 91.3 207.46C95.79 206.53 100.28 205.56 104.78 204.62C109.27 203.68 113.76 202.75 118.25 201.82C122.74 200.9 127.23 199.99 131.72 199.06C136.22 198.13 140.71 197.18 145.2 196.25C149.69 195.31 154.18 194.33 158.67 193.45C163.17 192.56 167.66 191.83 172.15 190.94C176.64 190.05 181.13 189.03 185.62 188.1C190.12 187.18 194.61 186.29 199.1 185.38C203.59 184.47 208.08 183.56 212.57 182.65C217.07 181.74 221.56 180.83 226.05 179.92C230.54 179.01 235.03 178.1 239.53 177.19C244.02 176.28 248.51 175.36 253 174.45C257.49 173.54 261.98 172.63 266.47 171.71C270.97 170.8 275.46 169.88 279.95 168.97C284.44 168.05 288.93 167.14 293.42 166.22C297.92 165.31 304.65 163.93 306.9 163.47" stroke="#3a3a46"/><path d="M50.88 216.45C53.12 215.92 59.86 214.26 64.35 213.27C68.84 212.29 73.33 211.44 77.82 210.54C82.32 209.63 86.81 208.74 91.3 207.83C95.79 206.92 100.28 205.98 104.78 205.07C109.27 204.15 113.76 203.25 118.25 202.34C122.74 201.44 127.23 200.55 131.72 199.64C136.22 198.74 140.71 197.82 145.2 196.91C149.69 196 154.18 195.05 158.67 194.18C163.17 193.31 167.66 192.58 172.15 191.7C176.64 190.83 181.13 189.84 185.62 188.94C190.12 188.04 194.61 187.17 199.1 186.28C203.59 185.4 208.08 184.5 212.57 183.61C217.07 182.73 221.56 181.84 226.05 180.94C230.54 180.05 235.03 179.16 239.53 178.27C244.02 177.38 248.51 176.49 253 175.59C257.49 174.7 261.98 173.8 266.47 172.91C270.97 172.01 275.46 171.12 279.95 170.22C284.44 169.32 288.93 168.42 293.42 167.52C297.92 166.62 304.65 165.27 306.9 164.82" stroke="#e8282c"/><path d="M50.88 216.55C53.12 216.04 59.86 214.44 64.35 213.49C68.84 212.53 73.33 211.7 77.82 210.82C82.32 209.94 86.81 209.07 91.3 208.19C95.79 207.3 100.28 206.38 104.78 205.49C109.27 204.6 113.76 203.72 118.25 202.84C122.74 201.96 127.23 201.08 131.72 200.2C136.22 199.32 140.71 198.43 145.2 197.55C149.69 196.66 154.18 195.73 158.67 194.88C163.17 194.03 167.66 193.29 172.15 192.44C176.64 191.58 181.13 190.63 185.62 189.75C190.12 188.86 194.61 188.02 199.1 187.15C203.59 186.29 208.08 185.41 212.57 184.54C217.07 183.67 221.56 182.8 226.05 181.93C230.54 181.06 235.03 180.19 239.53 179.32C244.02 178.44 248.51 177.57 253 176.69C257.49 175.82 261.98 174.94 266.47 174.06C270.97 173.19 275.46 172.31 279.95 171.43C284.44 170.55 288.93 169.67 293.42 168.78C297.92 167.9 304.65 166.57 306.9 166.13" stroke="#1f52e0"/><path d="M50.88 216.65C53.12 216.16 59.86 214.62 64.35 213.7C68.84 212.77 73.33 211.95 77.82 211.09C82.32 210.23 86.81 209.39 91.3 208.53C95.79 207.66 100.28 206.77 104.78 205.9C109.27 205.03 113.76 204.18 118.25 203.32C122.74 202.46 127.23 201.6 131.72 200.74C136.22 199.88 140.71 199.02 145.2 198.16C149.69 197.29 154.18 196.39 158.67 195.55C163.17 194.72 167.66 193.99 172.15 193.15C176.64 192.31 181.13 191.38 185.62 190.52C190.12 189.66 194.61 188.84 199.1 187.99C203.59 187.14 208.08 186.29 212.57 185.44C217.07 184.59 221.56 183.74 226.05 182.89C230.54 182.04 235.03 181.18 239.53 180.33C244.02 179.47 248.51 178.62 253 177.76C257.49 176.9 261.98 176.04 266.47 175.18C270.97 174.32 275.46 173.46 279.95 172.6C284.44 171.73 288.93 170.87 293.42 170C297.92 169.13 304.65 167.83 306.9 167.39" stroke="#1f9a52"/><path d="M50.88 216.74C53.12 216.27 59.86 214.8 64.35 213.9C68.84 213 73.33 212.19 77.82 211.35C82.32 210.51 86.81 209.7 91.3 208.86C95.79 208.01 100.28 207.14 104.78 206.29C109.27 205.45 113.76 204.63 118.25 203.79C122.74 202.95 127.23 202.1 131.72 201.26C136.22 200.42 140.71 199.59 145.2 198.75C149.69 197.91 154.18 197.03 158.67 196.21C163.17 195.39 167.66 194.66 172.15 193.83C176.64 193.01 181.13 192.11 185.62 191.27C190.12 190.43 194.61 189.63 199.1 188.8C203.59 187.97 208.08 187.14 212.57 186.31C217.07 185.48 221.56 184.64 226.05 183.81C230.54 182.98 235.03 182.14 239.53 181.3C244.02 180.47 248.51 179.63 253 178.79C257.49 177.95 261.98 177.11 266.47 176.26C270.97 175.42 275.46 174.58 279.95 173.73C284.44 172.88 288.93 172.03 293.42 171.18C297.92 170.33 304.65 169.04 306.9 168.62" stroke="#a656e6"/><path d="M50.88 216.83C53.12 216.38 59.86 214.96 64.35 214.09C68.84 213.22 73.33 212.42 77.82 211.6C82.32 210.79 86.81 209.99 91.3 209.17C95.79 208.35 100.28 207.5 104.78 206.68C109.27 205.85 113.76 205.06 118.25 204.24C122.74 203.42 127.23 202.58 131.72 201.76C136.22 200.95 140.71 200.14 145.2 199.32C149.69 198.5 154.18 197.64 158.67 196.84C163.17 196.03 167.66 195.3 172.15 194.5C176.64 193.69 181.13 192.82 185.62 192C190.12 191.18 194.61 190.39 199.1 189.59C203.59 188.78 208.08 187.96 212.57 187.15C217.07 186.33 221.56 185.52 226.05 184.7C230.54 183.89 235.03 183.07 239.53 182.25C244.02 181.43 248.51 180.61 253 179.79C257.49 178.96 261.98 178.14 266.47 177.31C270.97 176.48 275.46 175.65 279.95 174.82C284.44 173.99 288.93 173.16 293.42 172.32C297.92 171.49 304.65 170.22 306.9 169.8" stroke="#d09400"/><path d="M50.88 216.92C53.12 216.48 59.86 215.12 64.35 214.28C68.84 213.43 73.33 212.65 77.82 211.85C82.32 211.05 86.81 210.28 91.3 209.48C95.79 208.68 100.28 207.84 104.78 207.04C109.27 206.24 113.76 205.47 118.25 204.67C122.74 203.87 127.23 203.05 131.72 202.25C136.22 201.45 140.71 200.67 145.2 199.87C149.69 199.07 154.18 198.23 158.67 197.45C163.17 196.66 167.66 195.93 172.15 195.14C176.64 194.35 181.13 193.5 185.62 192.7C190.12 191.9 194.61 191.13 199.1 190.34C203.59 189.55 208.08 188.75 212.57 187.96C217.07 187.16 221.56 186.36 226.05 185.57C230.54 184.77 235.03 183.97 239.53 183.16C244.02 182.36 248.51 181.56 253 180.75C257.49 179.94 261.98 179.14 266.47 178.32C270.97 177.51 275.46 176.7 279.95 175.88C284.44 175.07 288.93 174.25 293.42 173.43C297.92 172.61 304.65 171.37 306.9 170.96" stroke="#16c6d0"/><path d="M50.88 217.01C53.12 216.58 59.86 215.28 64.35 214.46C68.84 213.64 73.33 212.86 77.82 212.08C82.32 211.3 86.81 210.56 91.3 209.78C95.79 208.99 100.28 208.18 104.78 207.4C109.27 206.62 113.76 205.87 118.25 205.09C122.74 204.31 127.23 203.5 131.72 202.72C136.22 201.94 140.71 201.19 145.2 200.41C149.69 199.63 154.18 198.81 158.67 198.03C163.17 197.26 167.66 196.53 172.15 195.75C176.64 194.98 181.13 194.16 185.62 193.38C190.12 192.6 194.61 191.85 199.1 191.07C203.59 190.3 208.08 189.52 212.57 188.74C217.07 187.96 221.56 187.18 226.05 186.4C230.54 185.62 235.03 184.83 239.53 184.05C244.02 183.26 248.51 182.47 253 181.68C257.49 180.89 261.98 180.1 266.47 179.31C270.97 178.51 275.46 177.71 279.95 176.91C284.44 176.11 288.93 175.31 293.42 174.5C297.92 173.69 304.65 172.48 306.9 172.07" stroke="#6c2c2c"/><path d="M50.88 217.09C53.12 216.68 59.86 215.43 64.35 214.63C68.84 213.83 73.33 213.07 77.82 212.31C82.32 211.55 86.81 210.82 91.3 210.06C95.79 209.3 100.28 208.5 104.78 207.74C109.27 206.98 113.76 206.25 118.25 205.49C122.74 204.73 127.23 203.93 131.72 203.17C136.22 202.41 140.71 201.68 145.2 200.92C149.69 200.16 154.18 199.36 158.67 198.6C163.17 197.84 167.66 197.11 172.15 196.35C176.64 195.59 181.13 194.79 185.62 194.03C190.12 193.27 194.61 192.54 199.1 191.78C203.59 191.03 208.08 190.26 212.57 189.5C217.07 188.74 221.56 187.97 226.05 187.21C230.54 186.44 235.03 185.68 239.53 184.91C244.02 184.14 248.51 183.36 253 182.59C257.49 181.81 261.98 181.04 266.47 180.26C270.97 179.48 275.46 178.69 279.95 177.91C284.44 177.12 288.93 176.33 293.42 175.54C297.92 174.75 304.65 173.55 306.9 173.15" stroke="#808410"/></g><g fill="none" stroke-width="2.9" stroke-linecap="round"><path d="M50.88 153.33h0M64.35 149.88h0M77.82 147.63h0M91.3 144.89h0M104.78 139.41h0M118.25 136.95h0M131.72 129.22h0M145.2 117.97h0M158.67 101.1h0M172.15 80.01h0M185.62 62.78h0M199.1 48.02h0M212.57 40.05h0M226.05 35.01h0M239.53 31.88h0M253 30.09h0M266.47 29.29h0M279.95 28.67h0M293.42 28.27h0M306.9 28.12h0" stroke="#3a3a46"/><path d="M50.88 153.61h0M64.35 150.1h0M77.82 148.06h0M91.3 144.94h0M104.78 139.23h0M118.25 136.6h0M131.72 128.96h0M145.2 117.27h0M158.67 100.58h0M172.15 80.18h0M185.62 64.54h0M199.1 50.2h0M212.57 42.25h0M226.05 37.12h0M239.53 33.85h0M253 31.92h0M266.47 30.98h0M279.95 30.25h0M293.42 29.77h0M306.9 29.6h0" stroke="#e8282c"/><path d="M50.88 155.93h0M64.35 152.06h0M77.82 148.69h0M91.3 145.03h0M104.78 139.06h0M118.25 136.25h0M131.72 128.51h0M145.2 115.86h0M158.67 99.69h0M172.15 80.36h0M185.62 65.95h0M199.1 53.29h0M212.57 45.25h0M226.05 39.94h0M239.53 37h0M253 35.01h0M266.47 33.36h0M279.95 31.91h0M293.42 30.77h0M306.9 30.09h0" stroke="#1f52e0"/><path d="M50.88 158.74h0M64.35 154.1h0M77.82 149.6h0M91.3 145.18h0M104.78 138.9h0M118.25 135.89h0M131.72 127.81h0M145.2 113.75h0M158.67 98.28h0M172.15 80.5h0M185.62 67.7h0M199.1 55.89h0M212.57 48.49h0M226.05 43.45h0M239.53 40.43h0M253 38.18h0M266.47 36.06h0M279.95 34.12h0M293.42 32.41h0M306.9 31.01h0" stroke="#1f9a52"/><path d="M50.88 162.96h0M64.35 156.49h0M77.82 150.87h0M91.3 145.38h0M104.78 138.71h0M118.25 135.54h0M131.72 127.11h0M145.2 111.64h0M158.67 96.88h0M172.15 80.71h0M185.62 69.46h0M199.1 59.27h0M212.57 52.63h0M226.05 47.67h0M239.53 43.87h0M253 40.92h0M266.47 38.42h0M279.95 36.16h0M293.42 34.28h0M306.9 32.91h0" stroke="#a656e6"/><path d="M50.88 167.88h0M64.35 159.73h0M77.82 153.12h0M91.3 145.67h0M104.78 138.36h0M118.25 133.43h0M131.72 125h0M145.2 108.13h0M158.67 95.47h0M172.15 81.41h0M185.62 71.22h0M199.1 63.42h0M212.57 57.09h0M226.05 51.89h0M239.53 47.81h0M253 44.5h0M266.47 41.64h0M279.95 39.03h0M293.42 36.78h0M306.9 35.01h0" stroke="#d09400"/><path d="M50.88 173.5h0M64.35 163.66h0M77.82 155.58h0M91.3 146.09h0M104.78 138h0M118.25 127.81h0M131.72 122.19h0M145.2 104.61h0M158.67 93.71h0M172.15 83.8h0M185.62 74.87h0M199.1 68.2h0M212.57 62.14h0M226.05 56.81h0M239.53 52.33h0M253 48.58h0M266.47 45.35h0M279.95 42.41h0M293.42 39.86h0M306.9 37.83h0" stroke="#16c6d0"/><path d="M50.88 180.89h0M64.35 168.09h0M77.82 157.83h0M91.3 146.79h0M104.78 137.65h0M118.25 126.4h0M131.72 115.86h0M145.2 106.02h0M158.67 96.17h0M172.15 87.6h0M185.62 79.58h0M199.1 73.4h0M212.57 67.3h0M226.05 61.73h0M239.53 57.04h0M253 53.01h0M266.47 49.42h0M279.95 46.11h0M293.42 43.15h0M306.9 40.64h0" stroke="#6c2c2c"/><path d="M50.88 188.62h0M64.35 172.8h0M77.82 160.57h0M91.3 148.9h0M104.78 138.36h0M118.25 128.51h0M131.72 117.97h0M145.2 109.18h0M158.67 99.69h0M172.15 92.66h0M185.62 84.79h0M199.1 78.6h0M212.57 72.41h0M226.05 66.65h0M239.53 61.66h0M253 57.3h0M266.47 53.42h0M279.95 49.81h0M293.42 46.57h0M306.9 43.8h0" stroke="#808410"/><path d="M50.88 192.91h0M64.35 177.02h0M77.82 164.01h0M91.3 152.41h0M104.78 141.73h0M118.25 131.32h0M131.72 121.83h0M145.2 113.05h0M158.67 104.26h0M172.15 97.3h0M185.62 89.85h0M199.1 83.52h0M212.57 77.59h0M226.05 71.83h0M239.53 66.49h0M253 61.8h0M266.47 57.67h0M279.95 53.88h0M293.42 50.53h0M306.9 47.67h0" stroke="#ff5a0a"/><path d="M50.88 196h0M64.35 180.32h0M77.82 167.6h0M91.3 155.93h0M104.78 145.38h0M118.25 134.84h0M131.72 126.83h0M145.2 118.32h0M158.67 109.53h0M172.15 101.94h0M185.62 94.77h0M199.1 88.16h0M212.57 82.2h0M226.05 76.54h0M239.53 71.28h0M253 66.51h0M266.47 62.16h0M279.95 58.12h0M293.42 54.45h0M306.9 51.18h0" stroke="#5c8ee0"/><path d="M50.88 199.31h0M64.35 182.93h0M77.82 171.11h0M91.3 159.44h0M104.78 149.18h0M118.25 139.48h0M131.72 130.62h0M145.2 122.19h0M158.67 114.45h0M172.15 106.72h0M185.62 99.69h0M199.1 93.36h0M212.57 87.32h0M226.05 81.39h0M239.53 75.83h0M253 70.87h0M266.47 66.43h0M279.95 62.34h0M293.42 58.64h0M306.9 55.4h0" stroke="#5eb424"/><path d="M50.88 201.7h0M64.35 185.63h0M77.82 174.21h0M91.3 163.31h0M104.78 152.98h0M118.25 143.63h0M131.72 134.63h0M145.2 126.4h0M158.67 118.81h0M172.15 111.22h0M185.62 104.61h0M199.1 97.93h0M212.57 91.57h0M226.05 85.34h0M239.53 79.56h0M253 74.52h0M266.47 70.13h0M279.95 66.13h0M293.42 62.59h0M306.9 59.62h0" stroke="#3a3a46"/><path d="M50.88 203.17h0M64.35 188.01h0M77.82 177.79h0M91.3 166.9h0M104.78 156.77h0M118.25 147.63h0M131.72 139.06h0M145.2 130.62h0M158.67 123.31h0M172.15 115.86h0M185.62 109.39h0M199.1 102.5h0M212.57 96.56h0M226.05 90.79h0M239.53 85.24h0M253 79.99h0M266.47 75.09h0M279.95 70.6h0M293.42 66.6h0M306.9 63.13h0" stroke="#e8282c"/><path d="M50.88 205.42h0M64.35 190.12h0M77.82 180.5h0M91.3 170.2h0M104.78 160.65h0M118.25 151.57h0M131.72 142.78h0M145.2 134.63h0M158.67 127.32h0M172.15 121.21h0M185.62 114.03h0M199.1 106.72h0M212.57 100.59h0M226.05 94.65h0M239.53 88.97h0M253 83.64h0M266.47 78.73h0M279.95 74.33h0M293.42 70.51h0M306.9 67.35h0" stroke="#1f52e0"/><path d="M50.88 206.32h0M64.35 192h0M77.82 182.92h0M91.3 173.5h0M104.78 164.14h0M118.25 155.3h0M131.72 147.08h0M145.2 138.5h0M158.67 131.47h0M172.15 126.15h0M185.62 118.67h0M199.1 111.43h0M212.57 105.3h0M226.05 99.34h0M239.53 93.64h0M253 88.28h0M266.47 83.31h0M279.95 78.82h0M293.42 74.88h0M306.9 71.57h0" stroke="#1f9a52"/><path d="M50.88 207.13h0M64.35 193.68h0M77.82 185.09h0M91.3 176.11h0M104.78 167.29h0M118.25 158.39h0M131.72 151h0M145.2 142.43h0M158.67 135.68h0M172.15 130.71h0M185.62 123.43h0M199.1 115.58h0M212.57 109.18h0M226.05 102.99h0M239.53 97.1h0M253 91.63h0M266.47 86.66h0M279.95 82.29h0M293.42 78.64h0M306.9 75.79h0" stroke="#a656e6"/><path d="M50.88 207.85h0M64.35 195.2h0M77.82 187.06h0M91.3 178.5h0M104.78 170.15h0M118.25 161.67h0M131.72 154.58h0M145.2 146.37h0M158.67 139.27h0M172.15 134.94h0M185.62 127.86h0M199.1 119.73h0M212.57 113.19h0M226.05 106.86h0M239.53 100.87h0M253 95.31h0M266.47 90.3h0M279.95 85.94h0M293.42 82.36h0M306.9 79.65h0" stroke="#d09400"/><path d="M50.88 208.51h0M64.35 196.59h0M77.82 188.84h0M91.3 180.71h0M104.78 172.76h0M118.25 164.68h0M131.72 157.86h0M145.2 149.99h0M158.67 143.14h0M172.15 138.85h0M185.62 131.99h0M199.1 123.59h0M212.57 117h0M226.05 110.64h0M239.53 104.62h0M253 99.08h0M266.47 94.15h0M279.95 89.94h0M293.42 86.59h0M306.9 84.22h0" stroke="#16c6d0"/><path d="M50.88 209.11h0M64.35 197.84h0M77.82 190.47h0M91.3 182.73h0M104.78 175.14h0M118.25 167.43h0M131.72 160.87h0M145.2 153.33h0M158.67 146.71h0M172.15 142.49h0M185.62 135.84h0M199.1 127.53h0M212.57 121h0M226.05 114.69h0M239.53 108.73h0M253 103.23h0M266.47 98.33h0M279.95 94.15h0M293.42 90.81h0M306.9 88.44h0" stroke="#6c2c2c"/><path d="M50.88 209.66h0M64.35 198.99h0M77.82 191.96h0M91.3 184.58h0M104.78 177.34h0M118.25 169.96h0M131.72 163.66h0M145.2 156.42h0M158.67 150.03h0M172.15 145.88h0M185.62 139.42h0M199.1 131.4h0M212.57 124.95h0M226.05 118.72h0M239.53 112.81h0M253 107.34h0M266.47 102.4h0M279.95 98.12h0M293.42 94.6h0M306.9 91.96h0" stroke="#808410"/><path d="M50.88 210.16h0M64.35 200.05h0M77.82 193.33h0M91.3 186.29h0M104.78 179.35h0M118.25 172.3h0M131.72 166.23h0M145.2 159.28h0M158.67 153.11h0M172.15 149.03h0M185.62 142.78h0M199.1 134.49h0M212.57 128.03h0M226.05 121.79h0M239.53 115.9h0M253 110.48h0M266.47 105.67h0M279.95 101.6h0M293.42 98.39h0M306.9 96.17h0" stroke="#ff5a0a"/><path d="M50.88 210.63h0M64.35 201.02h0M77.82 194.59h0M91.3 187.86h0M104.78 181.22h0M118.25 174.46h0M131.72 168.61h0M145.2 161.94h0M158.67 155.98h0M172.15 151.97h0M185.62 145.92h0M199.1 138.28h0M212.57 132.07h0M226.05 126.06h0M239.53 120.35h0M253 115.03h0M266.47 110.21h0M279.95 105.98h0M293.42 102.44h0M306.9 99.69h0" stroke="#5c8ee0"/><path d="M50.88 211.06h0M64.35 201.92h0M77.82 195.76h0M91.3 189.32h0M104.78 182.95h0M118.25 176.47h0M131.72 170.83h0M145.2 164.41h0M158.67 158.65h0M172.15 154.73h0M185.62 148.86h0M199.1 141.38h0M212.57 135.29h0M226.05 129.4h0M239.53 123.8h0M253 118.59h0M266.47 113.86h0M279.95 109.72h0M293.42 106.25h0M306.9 103.56h0" stroke="#5eb424"/><path d="M50.88 211.45h0M64.35 202.76h0M77.82 196.84h0M91.3 190.67h0M104.78 184.56h0M118.25 178.34h0M131.72 172.9h0M145.2 166.73h0M158.67 161.16h0M172.15 157.31h0M185.62 151.63h0M199.1 144.61h0M212.57 138.77h0M226.05 133.11h0M239.53 127.72h0M253 122.66h0M266.47 118.02h0M279.95 113.88h0M293.42 110.32h0M306.9 107.42h0" stroke="#3a3a46"/><path d="M50.88 211.82h0M64.35 203.53h0M77.82 197.85h0M91.3 191.93h0M104.78 186.05h0M118.25 180.08h0M131.72 174.83h0M145.2 168.89h0M158.67 163.5h0M172.15 159.73h0M185.62 154.23h0M199.1 147.56h0M212.57 141.92h0M226.05 136.45h0M239.53 131.21h0M253 126.28h0M266.47 121.71h0M279.95 117.59h0M293.42 113.97h0M306.9 110.94h0" stroke="#e8282c"/><path d="M50.88 212.17h0M64.35 204.26h0M77.82 198.79h0M91.3 193.1h0M104.78 187.45h0M118.25 181.71h0M131.72 176.63h0M145.2 170.91h0M158.67 165.7h0M172.15 162h0M185.62 156.67h0M199.1 150.1h0M212.57 144.56h0M226.05 139.2h0M239.53 134.07h0M253 129.25h0M266.47 124.81h0M279.95 120.81h0M293.42 117.34h0M306.9 114.45h0" stroke="#1f52e0"/><path d="M50.88 212.49h0M64.35 204.93h0M77.82 199.67h0M91.3 194.2h0M104.78 188.76h0M118.25 183.24h0M131.72 178.33h0M145.2 172.81h0M158.67 167.77h0M172.15 164.14h0M185.62 158.98h0M199.1 152.84h0M212.57 147.56h0M226.05 142.43h0M239.53 137.5h0M253 132.84h0M266.47 128.5h0M279.95 124.53h0M293.42 121h0M306.9 117.97h0" stroke="#1f9a52"/><path d="M50.88 212.79h0M64.35 205.57h0M77.82 200.49h0M91.3 195.23h0M104.78 189.99h0M118.25 184.67h0M131.72 179.92h0M145.2 174.6h0M158.67 169.72h0M172.15 166.16h0M185.62 161.16h0M199.1 155.37h0M212.57 150.27h0M226.05 145.31h0M239.53 140.52h0M253 135.95h0M266.47 131.64h0M279.95 127.65h0M293.42 124.01h0M306.9 120.78h0" stroke="#a656e6"/><path d="M50.88 213.07h0M64.35 206.16h0M77.82 201.27h0M91.3 196.2h0M104.78 191.14h0M118.25 186.02h0M131.72 181.41h0M145.2 176.29h0M158.67 171.56h0M172.15 168.07h0M185.62 163.22h0M199.1 157.97h0M212.57 153.15h0M226.05 148.43h0M239.53 143.83h0M253 139.38h0M266.47 135.1h0M279.95 131.03h0M293.42 127.18h0M306.9 123.59h0" stroke="#d09400"/><path d="M50.88 213.34h0M64.35 206.72h0M77.82 201.99h0M91.3 197.11h0M104.78 192.23h0M118.25 187.29h0M131.72 182.82h0M145.2 177.88h0M158.67 173.29h0M172.15 169.87h0M185.62 165.17h0M199.1 160.5h0M212.57 156.05h0M226.05 151.65h0M239.53 147.32h0M253 143.07h0M266.47 138.9h0M279.95 134.85h0M293.42 130.91h0M306.9 127.11h0" stroke="#16c6d0"/><path d="M50.88 213.59h0M64.35 207.24h0M77.82 202.68h0M91.3 197.96h0M104.78 193.25h0M118.25 188.48h0M131.72 184.16h0M145.2 179.38h0M158.67 174.93h0M172.15 171.58h0M185.62 167.02h0M199.1 162.75h0M212.57 158.55h0M226.05 154.37h0M239.53 150.22h0M253 146.09h0M266.47 141.99h0M279.95 137.93h0M293.42 133.9h0M306.9 129.92h0" stroke="#6c2c2c"/><path d="M50.88 213.82h0M64.35 207.74h0M77.82 203.32h0M91.3 198.77h0M104.78 194.22h0M118.25 189.61h0M131.72 185.42h0M145.2 180.8h0M158.67 176.48h0M172.15 173.19h0M185.62 168.77h0M199.1 164.62h0M212.57 160.54h0M226.05 156.48h0M239.53 152.44h0M253 148.43h0M266.47 144.45h0M279.95 140.5h0M293.42 136.6h0M306.9 132.73h0" stroke="#808410"/><path d="M50.88 214.04h0M64.35 208.21h0M77.82 203.93h0M91.3 199.54h0M104.78 195.13h0M118.25 190.68h0M131.72 186.61h0M145.2 182.15h0M158.67 177.96h0M172.15 174.73h0M185.62 170.44h0M199.1 166.4h0M212.57 162.44h0M226.05 158.51h0M239.53 154.59h0M253 150.71h0M266.47 146.86h0M279.95 143.04h0M293.42 139.27h0M306.9 135.54h0" stroke="#ff5a0a"/><path d="M50.88 214.25h0M64.35 208.65h0M77.82 204.51h0M91.3 200.26h0M104.78 196h0M118.25 191.7h0M131.72 187.74h0M145.2 183.42h0M158.67 179.36h0M172.15 176.19h0M185.62 172.02h0M199.1 168.1h0M212.57 164.24h0M226.05 160.41h0M239.53 156.59h0M253 152.81h0M266.47 149.05h0M279.95 145.33h0M293.42 141.64h0M306.9 138h0" stroke="#5c8ee0"/><path d="M50.88 214.45h0M64.35 209.07h0M77.82 205.06h0M91.3 200.95h0M104.78 196.82h0M118.25 192.66h0M131.72 188.81h0M145.2 184.64h0M158.67 180.69h0M172.15 177.58h0M185.62 173.53h0M199.1 169.71h0M212.57 165.97h0M226.05 162.24h0M239.53 158.53h0M253 154.85h0M266.47 151.2h0M279.95 147.58h0M293.42 144h0M306.9 140.46h0" stroke="#5eb424"/><path d="M50.88 214.64h0M64.35 209.47h0M77.82 205.58h0M91.3 201.6h0M104.78 197.6h0M118.25 193.58h0M131.72 189.84h0M145.2 185.79h0M158.67 181.96h0M172.15 178.9h0M185.62 174.97h0M199.1 171.25h0M212.57 167.62h0M226.05 164h0M239.53 160.41h0M253 156.85h0M266.47 153.33h0M279.95 149.84h0M293.42 146.39h0M306.9 142.99h0" stroke="#3a3a46"/><path d="M50.88 214.82h0M64.35 209.85h0M77.82 206.07h0M91.3 202.22h0M104.78 198.34h0M118.25 194.45h0M131.72 190.81h0M145.2 186.89h0M158.67 183.16h0M172.15 180.16h0M185.62 176.34h0M199.1 172.73h0M212.57 169.17h0M226.05 165.64h0M239.53 162.12h0M253 158.63h0M266.47 155.16h0M279.95 151.73h0M293.42 148.33h0M306.9 144.96h0" stroke="#e8282c"/><path d="M50.88 214.99h0M64.35 210.21h0M77.82 206.54h0M91.3 202.81h0M104.78 199.05h0M118.25 195.28h0M131.72 191.74h0M145.2 187.94h0M158.67 184.31h0M172.15 181.36h0M185.62 177.65h0M199.1 174.13h0M212.57 170.67h0M226.05 167.23h0M239.53 163.8h0M253 160.4h0M266.47 157.02h0M279.95 153.67h0M293.42 150.35h0M306.9 147.07h0" stroke="#1f52e0"/><path d="M50.88 215.16h0M64.35 210.56h0M77.82 206.99h0M91.3 203.38h0M104.78 199.73h0M118.25 196.07h0M131.72 192.62h0M145.2 188.94h0M158.67 185.41h0M172.15 182.51h0M185.62 178.9h0M199.1 175.48h0M212.57 172.1h0M226.05 168.74h0M239.53 165.39h0M253 162.06h0M266.47 158.75h0M279.95 155.47h0M293.42 152.22h0M306.9 148.99h0" stroke="#1f9a52"/><path d="M50.88 215.31h0M64.35 210.88h0M77.82 207.42h0M91.3 203.91h0M104.78 200.37h0M118.25 196.82h0M131.72 193.46h0M145.2 189.9h0M158.67 186.46h0M172.15 183.61h0M185.62 180.1h0M199.1 176.77h0M212.57 173.47h0M226.05 170.19h0M239.53 166.92h0M253 163.66h0M266.47 160.42h0M279.95 157.2h0M293.42 154.01h0M306.9 150.84h0" stroke="#a656e6"/><path d="M50.88 215.46h0M64.35 211.2h0M77.82 207.83h0M91.3 204.43h0M104.78 200.98h0M118.25 197.55h0M131.72 194.27h0M145.2 190.82h0M158.67 187.47h0M172.15 184.67h0M185.62 181.25h0M199.1 178h0M212.57 174.79h0M226.05 171.58h0M239.53 168.38h0M253 165.19h0M266.47 162.02h0M279.95 158.87h0M293.42 155.74h0M306.9 152.62h0" stroke="#d09400"/><path d="M50.88 215.6h0M64.35 211.5h0M77.82 208.22h0M91.3 204.92h0M104.78 201.57h0M118.25 198.24h0M131.72 195.04h0M145.2 191.69h0M158.67 188.43h0M172.15 185.68h0M185.62 182.35h0M199.1 179.19h0M212.57 176.05h0M226.05 172.91h0M239.53 169.79h0M253 166.67h0M266.47 163.57h0M279.95 160.48h0M293.42 157.4h0M306.9 154.34h0" stroke="#16c6d0"/><path d="M50.88 215.74h0M64.35 211.78h0M77.82 208.59h0M91.3 205.39h0M104.78 202.13h0M118.25 198.9h0M131.72 195.78h0M145.2 192.53h0M158.67 189.36h0M172.15 186.64h0M185.62 183.41h0M199.1 180.32h0M212.57 177.26h0M226.05 174.19h0M239.53 171.14h0M253 168.09h0M266.47 165.05h0M279.95 162.02h0M293.42 159h0M306.9 156h0" stroke="#6c2c2c"/><path d="M50.88 215.87h0M64.35 212.06h0M77.82 208.95h0M91.3 205.84h0M104.78 202.67h0M118.25 199.53h0M131.72 196.49h0M145.2 193.34h0M158.67 190.24h0M172.15 187.57h0M185.62 184.42h0M199.1 181.41h0M212.57 178.42h0M226.05 175.43h0M239.53 172.44h0M253 169.46h0M266.47 166.48h0M279.95 163.51h0M293.42 160.55h0M306.9 157.6h0" stroke="#808410"/><path d="M50.88 216h0M64.35 212.32h0M77.82 209.3h0M91.3 206.27h0M104.78 203.19h0M118.25 200.14h0M131.72 197.17h0M145.2 194.11h0M158.67 191.09h0M172.15 188.46h0M185.62 185.4h0M199.1 182.46h0M212.57 179.54h0M226.05 176.61h0M239.53 173.69h0M253 170.78h0M266.47 167.86h0M279.95 164.95h0M293.42 162.04h0M306.9 159.14h0" stroke="#ff5a0a"/><path d="M50.88 216.12h0M64.35 212.57h0M77.82 209.62h0M91.3 206.68h0M104.78 203.69h0M118.25 200.72h0M131.72 197.83h0M145.2 194.85h0M158.67 191.91h0M172.15 189.32h0M185.62 186.33h0M199.1 183.47h0M212.57 180.61h0M226.05 177.76h0M239.53 174.9h0M253 172.04h0M266.47 169.19h0M279.95 166.34h0M293.42 163.49h0M306.9 160.63h0" stroke="#5c8ee0"/><path d="M50.88 216.23h0M64.35 212.82h0M77.82 209.94h0M91.3 207.08h0M104.78 204.17h0M118.25 201.29h0M131.72 198.46h0M145.2 195.56h0M158.67 192.69h0M172.15 190.14h0M185.62 187.24h0M199.1 184.44h0M212.57 181.65h0M226.05 178.86h0M239.53 176.06h0M253 173.27h0M266.47 170.47h0M279.95 167.68h0M293.42 164.88h0M306.9 162.08h0" stroke="#5eb424"/><path d="M50.88 216.34h0M64.35 213.05h0M77.82 210.25h0M91.3 207.46h0M104.78 204.62h0M118.25 201.82h0M131.72 199.06h0M145.2 196.25h0M158.67 193.45h0M172.15 190.94h0M185.62 188.1h0M199.1 185.38h0M212.57 182.65h0M226.05 179.92h0M239.53 177.19h0M253 174.45h0M266.47 171.71h0M279.95 168.97h0M293.42 166.22h0M306.9 163.47h0" stroke="#3a3a46"/><path d="M50.88 216.45h0M64.35 213.27h0M77.82 210.54h0M91.3 207.83h0M104.78 205.07h0M118.25 202.34h0M131.72 199.64h0M145.2 196.91h0M158.67 194.18h0M172.15 191.7h0M185.62 188.94h0M199.1 186.28h0M212.57 183.61h0M226.05 180.94h0M239.53 178.27h0M253 175.59h0M266.47 172.91h0M279.95 170.22h0M293.42 167.52h0M306.9 164.82h0" stroke="#e8282c"/><path d="M50.88 216.55h0M64.35 213.49h0M77.82 210.82h0M91.3 208.19h0M104.78 205.49h0M118.25 202.84h0M131.72 200.2h0M145.2 197.55h0M158.67 194.88h0M172.15 192.44h0M185.62 189.75h0M199.1 187.15h0M212.57 184.54h0M226.05 181.93h0M239.53 179.32h0M253 176.69h0M266.47 174.06h0M279.95 171.43h0M293.42 168.78h0M306.9 166.13h0" stroke="#1f52e0"/><path d="M50.88 216.65h0M64.35 213.7h0M77.82 211.09h0M91.3 208.53h0M104.78 205.9h0M118.25 203.32h0M131.72 200.74h0M145.2 198.16h0M158.67 195.55h0M172.15 193.15h0M185.62 190.52h0M199.1 187.99h0M212.57 185.44h0M226.05 182.89h0M239.53 180.33h0M253 177.76h0M266.47 175.18h0M279.95 172.6h0M293.42 170h0M306.9 167.39h0" stroke="#1f9a52"/><path d="M50.88 216.74h0M64.35 213.9h0M77.82 211.35h0M91.3 208.86h0M104.78 206.29h0M118.25 203.79h0M131.72 201.26h0M145.2 198.75h0M158.67 196.21h0M172.15 193.83h0M185.62 191.27h0M199.1 188.8h0M212.57 186.31h0M226.05 183.81h0M239.53 181.3h0M253 178.79h0M266.47 176.26h0M279.95 173.73h0M293.42 171.18h0M306.9 168.62h0" stroke="#a656e6"/><path d="M50.88 216.83h0M64.35 214.09h0M77.82 211.6h0M91.3 209.17h0M104.78 206.68h0M118.25 204.24h0M131.72 201.76h0M145.2 199.32h0M158.67 196.84h0M172.15 194.5h0M185.62 192h0M199.1 189.59h0M212.57 187.15h0M226.05 184.7h0M239.53 182.25h0M253 179.79h0M266.47 177.31h0M279.95 174.82h0M293.42 172.32h0M306.9 169.8h0" stroke="#d09400"/><path d="M50.88 216.92h0M64.35 214.28h0M77.82 211.85h0M91.3 209.48h0M104.78 207.04h0M118.25 204.67h0M131.72 202.25h0M145.2 199.87h0M158.67 197.45h0M172.15 195.14h0M185.62 192.7h0M199.1 190.34h0M212.57 187.96h0M226.05 185.57h0M239.53 183.16h0M253 180.75h0M266.47 178.32h0M279.95 175.88h0M293.42 173.43h0M306.9 170.96h0" stroke="#16c6d0"/><path d="M50.88 217.01h0M64.35 214.46h0M77.82 212.08h0M91.3 209.78h0M104.78 207.4h0M118.25 205.09h0M131.72 202.72h0M145.2 200.41h0M158.67 198.03h0M172.15 195.75h0M185.62 193.38h0M199.1 191.07h0M212.57 188.74h0M226.05 186.4h0M239.53 184.05h0M253 181.68h0M266.47 179.31h0M279.95 176.91h0M293.42 174.5h0M306.9 172.07h0" stroke="#6c2c2c"/><path d="M50.88 217.09h0M64.35 214.63h0M77.82 212.31h0M91.3 210.06h0M104.78 207.74h0M118.25 205.49h0M131.72 203.17h0M145.2 200.92h0M158.67 198.6h0M172.15 196.35h0M185.62 194.03h0M199.1 191.78h0M212.57 189.5h0M226.05 187.21h0M239.53 184.91h0M253 182.59h0M266.47 180.26h0M279.95 177.91h0M293.42 175.54h0M306.9 173.15h0" stroke="#808410"/></g></g><g clip-path="url(#cb)"><g fill="none" stroke-width="0.5" stroke-opacity="0.8" opacity="0.5"><path d="M37.4 498.9C39.65 497.65 46.38 493.88 50.88 491.37C55.37 488.87 59.86 486.36 64.35 483.85C68.84 481.34 73.33 478.83 77.82 476.32C82.32 473.82 86.81 471.31 91.3 468.8C95.79 466.29 100.28 463.78 104.78 461.27C109.27 458.77 113.76 456.26 118.25 453.75C122.74 451.24 127.23 448.73 131.72 446.22C136.22 443.72 140.71 441.22 145.2 438.7C149.69 436.18 154.18 433.82 158.67 431.11C163.17 428.41 167.21 426.5 172.15 422.45C177.09 418.4 183.83 410.65 188.32 406.79C192.81 402.94 195.06 401.91 199.1 399.32C203.14 396.73 208.08 393.91 212.57 391.24C217.07 388.56 221.56 385.92 226.05 383.26C230.54 380.6 235.03 377.94 239.53 375.28C244.02 372.62 248.51 369.96 253 367.3C257.49 364.64 261.98 361.99 266.47 359.33C270.97 356.67 275.46 354.01 279.95 351.35C284.44 348.69 288.93 346.03 293.42 343.37C297.92 340.71 304.65 336.73 306.9 335.4" stroke="#3a3a46"/><path d="M37.4 498.9C39.65 497.65 46.38 493.88 50.88 491.37C55.37 488.87 59.86 486.36 64.35 483.85C68.84 481.34 73.33 478.83 77.82 476.32C82.32 473.82 86.81 471.31 91.3 468.8C95.79 466.29 100.28 463.78 104.78 461.27C109.27 458.77 113.76 456.26 118.25 453.75C122.74 451.24 127.23 448.73 131.72 446.22C136.22 443.72 140.71 441.22 145.2 438.7C149.69 436.18 154.18 433.82 158.67 431.11C163.17 428.41 167.21 426.5 172.15 422.45C177.09 418.4 183.83 410.65 188.32 406.79C192.81 402.94 195.06 401.91 199.1 399.32C203.14 396.73 208.08 393.91 212.57 391.24C217.07 388.56 221.56 385.92 226.05 383.26C230.54 380.6 235.03 377.94 239.53 375.28C244.02 372.62 248.51 369.96 253 367.3C257.49 364.64 261.98 361.99 266.47 359.33C270.97 356.67 275.46 354.01 279.95 351.35C284.44 348.69 288.93 346.03 293.42 343.37C297.92 340.71 304.65 336.73 306.9 335.4" stroke="#e8282c"/><path d="M37.4 498.9C39.65 497.63 46.38 493.81 50.88 491.27C55.37 488.72 59.86 486.18 64.35 483.63C68.84 481.09 73.33 478.55 77.82 476C82.32 473.46 86.81 470.92 91.3 468.38C95.79 465.83 100.28 463.29 104.78 460.75C109.27 458.21 113.76 455.67 118.25 453.12C122.74 450.58 127.23 448.04 131.72 445.5C136.22 442.96 140.71 440.43 145.2 437.88C149.69 435.33 154.18 432.93 158.67 430.2C163.17 427.47 167.21 425.52 172.15 421.51C177.09 417.49 183.83 409.91 188.32 406.1C192.81 402.29 195.06 401.24 199.1 398.64C203.14 396.03 208.08 393.19 212.57 390.49C217.07 387.8 221.56 385.13 226.05 382.45C230.54 379.77 235.03 377.09 239.53 374.42C244.02 371.74 248.51 369.06 253 366.38C257.49 363.71 261.98 361.03 266.47 358.35C270.97 355.67 275.46 353 279.95 350.32C284.44 347.64 288.93 344.97 293.42 342.29C297.92 339.62 304.65 335.6 306.9 334.27" stroke="#1f52e0"/><path d="M37.4 498.9C39.65 497.59 46.38 493.68 50.88 491.07C55.37 488.46 59.86 485.85 64.35 483.24C68.84 480.63 73.33 478.02 77.82 475.42C82.32 472.81 86.81 470.2 91.3 467.6C95.79 464.99 100.28 462.39 104.78 459.79C109.27 457.18 113.76 454.58 118.25 451.98C122.74 449.38 127.23 446.78 131.72 444.18C136.22 441.58 140.71 438.98 145.2 436.38C149.69 433.77 154.18 431.3 158.67 428.54C163.17 425.77 167.21 423.74 172.15 419.78C177.09 415.83 183.83 408.56 188.32 404.83C192.81 401.1 195.06 400 199.1 397.38C203.14 394.77 208.08 391.87 212.57 389.14C217.07 386.4 221.56 383.7 226.05 380.98C230.54 378.27 235.03 375.55 239.53 372.84C244.02 370.13 248.51 367.41 253 364.7C257.49 361.99 261.98 359.28 266.47 356.57C270.97 353.86 275.46 351.15 279.95 348.44C284.44 345.73 288.93 343.02 293.42 340.32C297.92 337.61 304.65 333.55 306.9 332.2" stroke="#1f9a52"/><path d="M37.4 498.9C39.65 497.55 46.38 493.5 50.88 490.81C55.37 488.11 59.86 485.42 64.35 482.73C68.84 480.04 73.33 477.35 77.82 474.66C82.32 471.97 86.81 469.28 91.3 466.59C95.79 463.91 100.28 461.22 104.78 458.54C109.27 455.86 113.76 453.18 118.25 450.5C122.74 447.82 127.23 445.14 131.72 442.46C136.22 439.79 140.71 437.12 145.2 434.44C149.69 431.76 154.18 429.19 158.67 426.38C163.17 423.57 167.21 421.42 172.15 417.55C177.09 413.69 183.83 406.82 188.32 403.19C192.81 399.56 195.06 398.39 199.1 395.76C203.14 393.12 208.08 390.16 212.57 387.38C217.07 384.6 221.56 381.84 226.05 379.08C230.54 376.32 235.03 373.56 239.53 370.8C244.02 368.04 248.51 365.28 253 362.52C257.49 359.77 261.98 357.01 266.47 354.26C270.97 351.5 275.46 348.75 279.95 346C284.44 343.25 288.93 340.5 293.42 337.76C297.92 335.01 304.65 330.89 306.9 329.52" stroke="#a656e6"/><path d="M37.4 498.9C39.65 497.5 46.38 493.3 50.88 490.5C55.37 487.71 59.86 484.91 64.35 482.12C68.84 479.33 73.33 476.54 77.82 473.76C82.32 470.97 86.81 468.19 91.3 465.4C95.79 462.62 100.28 459.84 104.78 457.07C109.27 454.29 113.76 451.51 118.25 448.74C122.74 445.97 127.23 443.2 131.72 440.43C136.22 437.67 140.71 434.91 145.2 432.14C149.69 429.37 154.18 426.7 158.67 423.82C163.17 420.95 167.21 418.67 172.15 414.91C177.09 411.15 183.83 404.76 188.32 401.25C192.81 397.73 195.06 396.49 199.1 393.84C203.14 391.18 208.08 388.13 212.57 385.3C217.07 382.46 221.56 379.65 226.05 376.83C230.54 374.01 235.03 371.19 239.53 368.38C244.02 365.56 248.51 362.75 253 359.94C257.49 357.13 261.98 354.33 266.47 351.52C270.97 348.72 275.46 345.92 279.95 343.12C284.44 340.32 288.93 337.52 293.42 334.72C297.92 331.93 304.65 327.74 306.9 326.35" stroke="#d09400"/><path d="M37.4 498.9C39.65 497.44 46.38 493.07 50.88 490.16C55.37 487.25 59.86 484.34 64.35 481.44C68.84 478.53 73.33 475.63 77.82 472.74C82.32 469.84 86.81 466.94 91.3 464.05C95.79 461.16 100.28 458.28 104.78 455.39C109.27 452.51 113.76 449.63 118.25 446.75C122.74 443.88 127.23 441 131.72 438.13C136.22 435.26 140.71 432.4 145.2 429.53C149.69 426.66 154.18 423.86 158.67 420.93C163.17 417.99 167.21 415.56 172.15 411.92C177.09 408.27 183.83 402.42 188.32 399.04C192.81 395.67 195.06 394.34 199.1 391.65C203.14 388.97 208.08 385.83 212.57 382.93C217.07 380.04 221.56 377.16 226.05 374.27C230.54 371.39 235.03 368.51 239.53 365.63C244.02 362.76 248.51 359.89 253 357.02C257.49 354.15 261.98 351.28 266.47 348.42C270.97 345.56 275.46 342.7 279.95 339.84C284.44 336.99 288.93 334.13 293.42 331.28C297.92 328.44 304.65 324.17 306.9 322.75" stroke="#16c6d0"/><path d="M37.4 498.9C39.65 497.38 46.38 492.81 50.88 489.78C55.37 486.74 59.86 483.71 64.35 480.68C68.84 477.65 73.33 474.63 77.82 471.61C82.32 468.59 86.81 465.57 91.3 462.56C95.79 459.55 100.28 456.54 104.78 453.54C109.27 450.54 113.76 447.54 118.25 444.55C122.74 441.56 127.23 438.57 131.72 435.59C136.22 432.6 140.71 429.62 145.2 426.65C149.69 423.67 154.18 420.73 158.67 417.72C163.17 414.72 167.21 412.12 172.15 408.6C177.09 405.08 183.83 399.83 188.32 396.61C192.81 393.38 195.06 391.96 199.1 389.24C203.14 386.53 208.08 383.29 212.57 380.32C217.07 377.36 221.56 374.4 226.05 371.45C230.54 368.49 235.03 365.55 239.53 362.6C244.02 359.66 248.51 356.72 253 353.78C257.49 350.85 261.98 347.92 266.47 344.99C270.97 342.06 275.46 339.14 279.95 336.22C284.44 333.3 288.93 330.39 293.42 327.48C297.92 324.57 304.65 320.22 306.9 318.77" stroke="#6c2c2c"/><path d="M37.4 498.9C39.65 497.31 46.38 492.53 50.88 489.36C55.37 486.18 59.86 483.02 64.35 479.85C68.84 476.69 73.33 473.53 77.82 470.38C82.32 467.23 86.81 464.08 91.3 460.94C95.79 457.8 100.28 454.66 104.78 451.53C109.27 448.4 113.76 445.28 118.25 442.16C122.74 439.04 127.23 435.93 131.72 432.82C136.22 429.71 140.71 426.61 145.2 423.51C149.69 420.42 154.18 417.32 158.67 414.24C163.17 411.15 167.21 408.38 172.15 405C177.09 401.62 183.83 397.02 188.32 393.96C192.81 390.89 195.06 389.37 199.1 386.62C203.14 383.87 208.08 380.52 212.57 377.48C217.07 374.44 221.56 371.41 226.05 368.38C230.54 365.35 235.03 362.32 239.53 359.3C244.02 356.28 248.51 353.27 253 350.26C257.49 347.26 261.98 344.26 266.47 341.26C270.97 338.26 275.46 335.27 279.95 332.29C284.44 329.3 288.93 326.32 293.42 323.35C297.92 320.37 304.65 315.93 306.9 314.44" stroke="#808410"/><path d="M37.4 498.9C39.65 497.33 46.38 492.62 50.88 489.49C55.37 486.36 59.86 483.24 64.35 480.12C68.84 477 73.33 473.89 77.82 470.78C82.32 467.67 86.81 464.57 91.3 461.47C95.79 458.37 100.28 455.28 104.78 452.19C109.27 449.1 113.76 446.02 118.25 442.95C122.74 439.87 127.23 436.8 131.72 433.73C136.22 430.66 140.71 427.6 145.2 424.55C149.69 421.49 154.18 418.44 158.67 415.4C163.17 412.35 167.21 409.62 172.15 406.28C177.09 402.94 183.83 398.4 188.32 395.38C192.81 392.35 195.06 390.85 199.1 388.14C203.14 385.43 208.08 382.12 212.57 379.11C217.07 376.11 221.56 373.11 226.05 370.12C230.54 367.13 235.03 364.14 239.53 361.16C244.02 358.18 248.51 355.2 253 352.23C257.49 349.26 261.98 346.3 266.47 343.34C270.97 340.38 275.46 337.42 279.95 334.47C284.44 331.52 288.93 328.58 293.42 325.64C297.92 322.7 304.65 318.31 306.9 316.84" stroke="#ff5a0a"/><path d="M37.4 498.9C39.65 497.35 46.38 492.71 50.88 489.63C55.37 486.54 59.86 483.46 64.35 480.38C68.84 477.31 73.33 474.24 77.82 471.17C82.32 468.1 86.81 465.04 91.3 461.99C95.79 458.93 100.28 455.88 104.78 452.83C109.27 449.79 113.76 446.75 118.25 443.71C122.74 440.68 127.23 437.64 131.72 434.62C136.22 431.59 140.71 428.57 145.2 425.56C149.69 422.54 154.18 419.53 158.67 416.53C163.17 413.52 167.21 410.82 172.15 407.52C177.09 404.23 183.83 399.75 188.32 396.76C192.81 393.78 195.06 392.29 199.1 389.61C203.14 386.94 208.08 383.67 212.57 380.7C217.07 377.74 221.56 374.78 226.05 371.82C230.54 368.87 235.03 365.92 239.53 362.97C244.02 360.03 248.51 357.09 253 354.15C257.49 351.22 261.98 348.29 266.47 345.36C270.97 342.44 275.46 339.52 279.95 336.6C284.44 333.69 288.93 330.78 293.42 327.87C297.92 324.97 304.65 320.63 306.9 319.18" stroke="#5c8ee0"/><path d="M37.4 498.9C39.65 497.38 46.38 492.8 50.88 489.75C55.37 486.71 59.86 483.67 64.35 480.64C68.84 477.6 73.33 474.57 77.82 471.55C82.32 468.52 86.81 465.5 91.3 462.49C95.79 459.47 100.28 456.46 104.78 453.46C109.27 450.45 113.76 447.45 118.25 444.46C122.74 441.46 127.23 438.47 131.72 435.48C136.22 432.5 140.71 429.52 145.2 426.54C149.69 423.56 154.18 420.59 158.67 417.62C163.17 414.66 167.21 411.99 172.15 408.74C177.09 405.48 183.83 401.06 188.32 398.11C192.81 395.16 195.06 393.69 199.1 391.05C203.14 388.41 208.08 385.18 212.57 382.25C217.07 379.32 221.56 376.4 226.05 373.48C230.54 370.56 235.03 367.64 239.53 364.73C244.02 361.83 248.51 358.92 253 356.02C257.49 353.12 261.98 350.23 266.47 347.34C270.97 344.45 275.46 341.56 279.95 338.68C284.44 335.8 288.93 332.92 293.42 330.05C297.92 327.18 304.65 322.89 306.9 321.45" stroke="#5eb424"/><path d="M37.4 498.9C39.65 497.4 46.38 492.88 50.88 489.88C55.37 486.88 59.86 483.88 64.35 480.88C68.84 477.89 73.33 474.9 77.82 471.92C82.32 468.93 86.81 465.95 91.3 462.98C95.79 460 100.28 457.03 104.78 454.07C109.27 451.1 113.76 448.14 118.25 445.18C122.74 442.22 127.23 439.27 131.72 436.32C136.22 433.38 140.71 430.43 145.2 427.49C149.69 424.56 154.18 421.62 158.67 418.69C163.17 415.76 167.21 413.13 172.15 409.92C177.09 406.71 183.83 402.33 188.32 399.42C192.81 396.51 195.06 395.06 199.1 392.45C203.14 389.84 208.08 386.65 212.57 383.76C217.07 380.86 221.56 377.97 226.05 375.09C230.54 372.21 235.03 369.33 239.53 366.45C244.02 363.58 248.51 360.71 253 357.84C257.49 354.98 261.98 352.12 266.47 349.26C270.97 346.4 275.46 343.55 279.95 340.7C284.44 337.86 288.93 335.01 293.42 332.18C297.92 329.34 304.65 325.09 306.9 323.67" stroke="#3a3a46"/><path d="M37.4 498.9C39.65 497.42 46.38 492.96 50.88 490C55.37 487.04 59.86 484.08 64.35 481.12C68.84 478.17 73.33 475.22 77.82 472.28C82.32 469.33 86.81 466.39 91.3 463.45C95.79 460.52 100.28 457.59 104.78 454.66C109.27 451.73 113.76 448.81 118.25 445.89C122.74 442.97 127.23 440.05 131.72 437.14C136.22 434.23 140.71 431.33 145.2 428.43C149.69 425.52 154.18 422.63 158.67 419.73C163.17 416.84 167.21 414.24 172.15 411.07C177.09 407.9 183.83 403.58 188.32 400.7C192.81 397.83 195.06 396.39 199.1 393.81C203.14 391.23 208.08 388.08 212.57 385.23C217.07 382.37 221.56 379.51 226.05 376.66C230.54 373.81 235.03 370.97 239.53 368.13C244.02 365.29 248.51 362.45 253 359.62C257.49 356.79 261.98 353.96 266.47 351.13C270.97 348.31 275.46 345.49 279.95 342.68C284.44 339.86 288.93 337.05 293.42 334.25C297.92 331.44 304.65 327.24 306.9 325.84" stroke="#e8282c"/><path d="M37.4 498.9C39.65 497.44 46.38 493.04 50.88 490.12C55.37 487.19 59.86 484.27 64.35 481.36C68.84 478.44 73.33 475.53 77.82 472.63C82.32 469.72 86.81 466.82 91.3 463.92C95.79 461.02 100.28 458.12 104.78 455.23C109.27 452.34 113.76 449.46 118.25 446.58C122.74 443.69 127.23 440.82 131.72 437.94C136.22 435.07 140.71 432.2 145.2 429.33C149.69 426.47 154.18 423.6 158.67 420.75C163.17 417.89 167.21 415.32 172.15 412.19C177.09 409.05 183.83 404.79 188.32 401.95C192.81 399.11 195.06 397.69 199.1 395.14C203.14 392.59 208.08 389.48 212.57 386.66C217.07 383.83 221.56 381.01 226.05 378.2C230.54 375.38 235.03 372.57 239.53 369.76C244.02 366.95 248.51 364.15 253 361.35C257.49 358.55 261.98 355.76 266.47 352.96C270.97 350.17 275.46 347.39 279.95 344.6C284.44 341.82 288.93 339.04 293.42 336.27C297.92 333.49 304.65 329.34 306.9 327.95" stroke="#1f52e0"/><path d="M37.4 498.9C39.65 497.46 46.38 493.12 50.88 490.23C55.37 487.35 59.86 484.47 64.35 481.59C68.84 478.71 73.33 475.84 77.82 472.97C82.32 470.1 86.81 467.23 91.3 464.37C95.79 461.51 100.28 458.65 104.78 455.8C109.27 452.94 113.76 450.09 118.25 447.25C122.74 444.4 127.23 441.56 131.72 438.72C136.22 435.88 140.71 433.05 145.2 430.22C149.69 427.39 154.18 424.56 158.67 421.74C163.17 418.91 167.21 416.38 172.15 413.28C177.09 410.18 183.83 405.97 188.32 403.16C192.81 400.36 195.06 398.96 199.1 396.44C203.14 393.92 208.08 390.85 212.57 388.05C217.07 385.26 221.56 382.48 226.05 379.69C230.54 376.91 235.03 374.13 239.53 371.35C244.02 368.58 248.51 365.81 253 363.04C257.49 360.27 261.98 357.51 266.47 354.75C270.97 351.99 275.46 349.23 279.95 346.48C284.44 343.73 288.93 340.98 293.42 338.24C297.92 335.49 304.65 331.39 306.9 330.02" stroke="#1f9a52"/><path d="M37.4 498.9C39.65 497.47 46.38 493.19 50.88 490.34C55.37 487.5 59.86 484.65 64.35 481.81C68.84 478.97 73.33 476.13 77.82 473.3C82.32 470.47 86.81 467.64 91.3 464.81C95.79 461.98 100.28 459.16 104.78 456.34C109.27 453.52 113.76 450.71 118.25 447.9C122.74 445.09 127.23 442.28 131.72 439.48C136.22 436.67 140.71 433.87 145.2 431.08C149.69 428.28 154.18 425.49 158.67 422.7C163.17 419.91 167.21 417.4 172.15 414.35C177.09 411.29 183.83 407.12 188.32 404.35C192.81 401.58 195.06 400.19 199.1 397.7C203.14 395.21 208.08 392.18 212.57 389.42C217.07 386.66 221.56 383.9 226.05 381.15C230.54 378.4 235.03 375.65 239.53 372.91C244.02 370.16 248.51 367.42 253 364.69C257.49 361.95 261.98 359.22 266.47 356.49C270.97 353.76 275.46 351.04 279.95 348.32C284.44 345.59 288.93 342.88 293.42 340.16C297.92 337.45 304.65 333.39 306.9 332.03" stroke="#a656e6"/><path d="M37.4 498.9C39.65 497.49 46.38 493.26 50.88 490.45C55.37 487.64 59.86 484.83 64.35 482.03C68.84 479.22 73.33 476.42 77.82 473.62C82.32 470.82 86.81 468.03 91.3 465.24C95.79 462.45 100.28 459.66 104.78 456.88C109.27 454.09 113.76 451.31 118.25 448.54C122.74 445.76 127.23 442.99 131.72 440.22C136.22 437.45 140.71 434.68 145.2 431.92C149.69 429.16 154.18 426.4 158.67 423.64C163.17 420.89 167.21 418.41 172.15 415.39C177.09 412.36 183.83 408.25 188.32 405.51C192.81 402.77 195.06 401.4 199.1 398.94C203.14 396.48 208.08 393.47 212.57 390.75C217.07 388.02 221.56 385.3 226.05 382.58C230.54 379.86 235.03 377.14 239.53 374.43C244.02 371.71 248.51 369 253 366.3C257.49 363.59 261.98 360.89 266.47 358.19C270.97 355.49 275.46 352.8 279.95 350.11C284.44 347.41 288.93 344.73 293.42 342.04C297.92 339.36 304.65 335.34 306.9 334" stroke="#d09400"/><path d="M37.4 498.9C39.65 497.51 46.38 493.34 50.88 490.56C55.37 487.78 59.86 485.01 64.35 482.24C68.84 479.47 73.33 476.7 77.82 473.94C82.32 471.17 86.81 468.41 91.3 465.66C95.79 462.9 100.28 460.15 104.78 457.4C109.27 454.65 113.76 451.9 118.25 449.16C122.74 446.41 127.23 443.67 131.72 440.94C136.22 438.2 140.71 435.47 145.2 432.74C149.69 430.01 154.18 427.28 158.67 424.56C163.17 421.84 167.21 419.39 172.15 416.4C177.09 413.41 183.83 409.34 188.32 406.63C192.81 403.93 195.06 402.57 199.1 400.14C203.14 397.71 208.08 394.74 212.57 392.04C217.07 389.35 221.56 386.65 226.05 383.96C230.54 381.28 235.03 378.59 239.53 375.91C244.02 373.22 248.51 370.55 253 367.87C257.49 365.19 261.98 362.52 266.47 359.85C270.97 357.18 275.46 354.52 279.95 351.85C284.44 349.19 288.93 346.53 293.42 343.88C297.92 341.22 304.65 337.25 306.9 335.92" stroke="#16c6d0"/><path d="M37.4 498.9C39.65 497.53 46.38 493.41 50.88 490.66C55.37 487.92 59.86 485.18 64.35 482.44C68.84 479.71 73.33 476.97 77.82 474.25C82.32 471.52 86.81 468.79 91.3 466.07C95.79 463.34 100.28 460.62 104.78 457.9C109.27 455.19 113.76 452.47 118.25 449.76C122.74 447.05 127.23 444.34 131.72 441.64C136.22 438.94 140.71 436.24 145.2 433.54C149.69 430.84 154.18 428.15 158.67 425.45C163.17 422.76 167.21 420.34 172.15 417.39C177.09 414.44 183.83 410.42 188.32 407.74C192.81 405.06 195.06 403.72 199.1 401.32C203.14 398.91 208.08 395.98 212.57 393.31C217.07 390.64 221.56 387.98 226.05 385.32C230.54 382.66 235.03 380.01 239.53 377.35C244.02 374.7 248.51 372.05 253 369.4C257.49 366.76 261.98 364.11 266.47 361.47C270.97 358.83 275.46 356.2 279.95 353.56C284.44 350.93 288.93 348.3 293.42 345.67C297.92 343.04 304.65 339.11 306.9 337.8" stroke="#6c2c2c"/><path d="M37.4 498.9C39.65 497.54 46.38 493.47 50.88 490.76C55.37 488.05 59.86 485.35 64.35 482.65C68.84 479.94 73.33 477.24 77.82 474.55C82.32 471.85 86.81 469.15 91.3 466.46C95.79 463.77 100.28 461.08 104.78 458.4C109.27 455.71 113.76 453.03 118.25 450.35C122.74 447.68 127.23 445 131.72 442.33C136.22 439.65 140.71 436.99 145.2 434.32C149.69 431.65 154.18 428.99 158.67 426.33C163.17 423.67 167.21 421.27 172.15 418.36C177.09 415.44 183.83 411.46 188.32 408.81C192.81 406.16 195.06 404.84 199.1 402.47C203.14 400.09 208.08 397.18 212.57 394.55C217.07 391.91 221.56 389.28 226.05 386.65C230.54 384.02 235.03 381.39 239.53 378.77C244.02 376.14 248.51 373.52 253 370.9C257.49 368.29 261.98 365.67 266.47 363.06C270.97 360.45 275.46 357.84 279.95 355.23C284.44 352.63 288.93 350.02 293.42 347.42C297.92 344.82 304.65 340.93 306.9 339.63" stroke="#808410"/><path d="M37.4 498.9C39.65 497.56 46.38 493.54 50.88 490.86C55.37 488.19 59.86 485.51 64.35 482.84C68.84 480.17 73.33 477.5 77.82 474.84C82.32 472.17 86.81 469.51 91.3 466.85C95.79 464.19 100.28 461.54 104.78 458.88C109.27 456.23 113.76 453.58 118.25 450.93C122.74 448.28 127.23 445.64 131.72 443C136.22 440.36 140.71 437.72 145.2 435.08C149.69 432.44 154.18 429.81 158.67 427.18C163.17 424.55 167.21 422.19 172.15 419.3C177.09 416.41 183.83 412.48 188.32 409.86C192.81 407.24 195.06 405.94 199.1 403.59C203.14 401.24 208.08 398.36 212.57 395.76C217.07 393.15 221.56 390.54 226.05 387.94C230.54 385.34 235.03 382.74 239.53 380.15C244.02 377.55 248.51 374.96 253 372.37C257.49 369.78 261.98 367.19 266.47 364.61C270.97 362.02 275.46 359.44 279.95 356.86C284.44 354.28 288.93 351.71 293.42 349.14C297.92 346.56 304.65 342.71 306.9 341.43" stroke="#ff5a0a"/><path d="M37.4 498.9C39.65 497.58 46.38 493.6 50.88 490.96C55.37 488.31 59.86 485.67 64.35 483.03C68.84 480.39 73.33 477.76 77.82 475.12C82.32 472.49 86.81 469.86 91.3 467.23C95.79 464.6 100.28 461.98 104.78 459.36C109.27 456.73 113.76 454.11 118.25 451.5C122.74 448.88 127.23 446.26 131.72 443.65C136.22 441.04 140.71 438.43 145.2 435.83C149.69 433.22 154.18 430.62 158.67 428.02C163.17 425.41 167.21 423.08 172.15 420.22C177.09 417.37 183.83 413.48 188.32 410.89C192.81 408.3 195.06 407.01 199.1 404.68C203.14 402.36 208.08 399.52 212.57 396.94C217.07 394.36 221.56 391.78 226.05 389.21C230.54 386.63 235.03 384.06 239.53 381.5C244.02 378.93 248.51 376.36 253 373.8C257.49 371.24 261.98 368.68 266.47 366.12C270.97 363.56 275.46 361.01 279.95 358.46C284.44 355.91 288.93 353.36 293.42 350.81C297.92 348.27 304.65 344.45 306.9 343.18" stroke="#5c8ee0"/><path d="M37.4 498.9C39.65 497.59 46.38 493.67 50.88 491.05C55.37 488.44 59.86 485.83 64.35 483.22C68.84 480.61 73.33 478.01 77.82 475.4C82.32 472.8 86.81 470.2 91.3 467.6C95.79 465 100.28 462.41 104.78 459.82C109.27 457.22 113.76 454.63 118.25 452.05C122.74 449.46 127.23 446.87 131.72 444.29C136.22 441.71 140.71 439.13 145.2 436.55C149.69 433.98 154.18 431.4 158.67 428.83C163.17 426.26 167.21 423.94 172.15 421.12C177.09 418.3 183.83 414.45 188.32 411.89C192.81 409.33 195.06 408.05 199.1 405.75C203.14 403.45 208.08 400.64 212.57 398.09C217.07 395.54 221.56 392.99 226.05 390.45C230.54 387.9 235.03 385.36 239.53 382.82C244.02 380.27 248.51 377.74 253 375.2C257.49 372.67 261.98 370.13 266.47 367.6C270.97 365.07 275.46 362.54 279.95 360.02C284.44 357.49 288.93 354.97 293.42 352.45C297.92 349.93 304.65 346.16 306.9 344.9" stroke="#5eb424"/><path d="M37.4 498.9C39.65 497.61 46.38 493.73 50.88 491.14C55.37 488.56 59.86 485.98 64.35 483.4C68.84 480.82 73.33 478.25 77.82 475.68C82.32 473.1 86.81 470.53 91.3 467.96C95.79 465.4 100.28 462.83 104.78 460.27C109.27 457.7 113.76 455.14 118.25 452.58C122.74 450.03 127.23 447.47 131.72 444.92C136.22 442.36 140.71 439.81 145.2 437.26C149.69 434.72 154.18 432.17 158.67 429.63C163.17 427.08 167.21 424.79 172.15 422C177.09 419.21 183.83 415.41 188.32 412.87C192.81 410.34 195.06 409.07 199.1 406.8C203.14 404.52 208.08 401.74 212.57 399.22C217.07 396.7 221.56 394.17 226.05 391.66C230.54 389.14 235.03 386.62 239.53 384.11C244.02 381.59 248.51 379.08 253 376.57C257.49 374.06 261.98 371.55 266.47 369.05C270.97 366.55 275.46 364.04 279.95 361.54C284.44 359.04 288.93 356.55 293.42 354.05C297.92 351.56 304.65 347.82 306.9 346.58" stroke="#3a3a46"/><path d="M37.4 498.9C39.65 497.62 46.38 493.79 50.88 491.23C55.37 488.68 59.86 486.13 64.35 483.58C68.84 481.03 73.33 478.49 77.82 475.94C82.32 473.4 86.81 470.86 91.3 468.32C95.79 465.78 100.28 463.24 104.78 460.71C109.27 458.17 113.76 455.64 118.25 453.11C122.74 450.58 127.23 448.05 131.72 445.53C136.22 443 140.71 440.48 145.2 437.96C149.69 435.44 154.18 432.92 158.67 430.4C163.17 427.89 167.21 425.63 172.15 422.86C177.09 420.1 183.83 416.34 188.32 413.83C192.81 411.33 195.06 410.07 199.1 407.82C203.14 405.57 208.08 402.82 212.57 400.32C217.07 397.83 221.56 395.33 226.05 392.84C230.54 390.35 235.03 387.85 239.53 385.37C244.02 382.88 248.51 380.39 253 377.91C257.49 375.43 261.98 372.94 266.47 370.47C270.97 367.99 275.46 365.51 279.95 363.04C284.44 360.56 288.93 358.09 293.42 355.62C297.92 353.15 304.65 349.45 306.9 348.22" stroke="#e8282c"/><path d="M37.4 498.9C39.65 497.64 46.38 493.85 50.88 491.32C55.37 488.8 59.86 486.28 64.35 483.76C68.84 481.24 73.33 478.72 77.82 476.2C82.32 473.69 86.81 471.17 91.3 468.66C95.79 466.15 100.28 463.64 104.78 461.14C109.27 458.63 113.76 456.13 118.25 453.62C122.74 451.12 127.23 448.62 131.72 446.13C136.22 443.63 140.71 441.13 145.2 438.64C149.69 436.15 154.18 433.65 158.67 431.17C163.17 428.68 167.21 426.44 172.15 423.7C177.09 420.97 183.83 417.25 188.32 414.77C192.81 412.29 195.06 411.05 199.1 408.82C203.14 406.6 208.08 403.87 212.57 401.4C217.07 398.93 221.56 396.46 226.05 394C230.54 391.53 235.03 389.06 239.53 386.6C244.02 384.14 248.51 381.68 253 379.22C257.49 376.76 261.98 374.31 266.47 371.85C270.97 369.4 275.46 366.95 279.95 364.5C284.44 362.05 288.93 359.6 293.42 357.16C297.92 354.71 304.65 351.05 306.9 349.83" stroke="#1f52e0"/><path d="M37.4 498.9C39.65 497.65 46.38 493.9 50.88 491.41C55.37 488.91 59.86 486.42 64.35 483.93C68.84 481.43 73.33 478.95 77.82 476.46C82.32 473.97 86.81 471.49 91.3 469C95.79 466.52 100.28 464.04 104.78 461.56C109.27 459.08 113.76 456.6 118.25 454.13C122.74 451.65 127.23 449.18 131.72 446.71C136.22 444.24 140.71 441.77 145.2 439.3C149.69 436.84 154.18 434.37 158.67 431.91C163.17 429.45 167.21 427.23 172.15 424.53C177.09 421.82 183.83 418.14 188.32 415.69C192.81 413.23 195.06 412.01 199.1 409.8C203.14 407.6 208.08 404.91 212.57 402.46C217.07 400.01 221.56 397.57 226.05 395.13C230.54 392.69 235.03 390.25 239.53 387.81C244.02 385.37 248.51 382.94 253 380.5C257.49 378.07 261.98 375.64 266.47 373.21C270.97 370.78 275.46 368.35 279.95 365.93C284.44 363.5 288.93 361.08 293.42 358.66C297.92 356.24 304.65 352.61 306.9 351.4" stroke="#1f9a52"/><path d="M37.4 498.9C39.65 497.67 46.38 493.96 50.88 491.49C55.37 489.02 59.86 486.56 64.35 484.09C68.84 481.63 73.33 479.17 77.82 476.71C82.32 474.25 86.81 471.79 91.3 469.33C95.79 466.88 100.28 464.42 104.78 461.97C109.27 459.52 113.76 457.07 118.25 454.62C122.74 452.17 127.23 449.72 131.72 447.28C136.22 444.84 140.71 442.39 145.2 439.95C149.69 437.51 154.18 435.07 158.67 432.64C163.17 430.2 167.21 428.01 172.15 425.33C177.09 422.66 183.83 419.01 188.32 416.58C192.81 414.16 195.06 412.94 199.1 410.76C203.14 408.58 208.08 405.91 212.57 403.49C217.07 401.07 221.56 398.65 226.05 396.24C230.54 393.82 235.03 391.4 239.53 388.99C244.02 386.58 248.51 384.17 253 381.76C257.49 379.35 261.98 376.94 266.47 374.54C270.97 372.13 275.46 369.73 279.95 367.33C284.44 364.93 288.93 362.53 293.42 360.13C297.92 357.73 304.65 354.14 306.9 352.94" stroke="#a656e6"/><path d="M37.4 498.9C39.65 497.68 46.38 494.01 50.88 491.57C55.37 489.13 59.86 486.69 64.35 484.26C68.84 481.82 73.33 479.38 77.82 476.95C82.32 474.52 86.81 472.09 91.3 469.66C95.79 467.23 100.28 464.8 104.78 462.37C109.27 459.95 113.76 457.52 118.25 455.1C122.74 452.68 127.23 450.26 131.72 447.84C136.22 445.42 140.71 443 145.2 440.59C149.69 438.17 154.18 435.76 158.67 433.35C163.17 430.94 167.21 428.77 172.15 426.12C177.09 423.47 183.83 419.87 188.32 417.46C192.81 415.06 195.06 413.86 199.1 411.7C203.14 409.54 208.08 406.9 212.57 404.5C217.07 402.11 221.56 399.71 226.05 397.32C230.54 394.93 235.03 392.54 239.53 390.15C244.02 387.76 248.51 385.37 253 382.99C257.49 380.6 261.98 378.22 266.47 375.84C270.97 373.45 275.46 371.08 279.95 368.7C284.44 366.32 288.93 363.94 293.42 361.57C297.92 359.19 304.65 355.64 306.9 354.45" stroke="#d09400"/><path d="M37.4 498.9C39.65 497.69 46.38 494.07 50.88 491.65C55.37 489.24 59.86 486.83 64.35 484.42C68.84 482 73.33 479.6 77.82 477.19C82.32 474.78 86.81 472.38 91.3 469.97C95.79 467.57 100.28 465.17 104.78 462.77C109.27 460.37 113.76 457.97 118.25 455.57C122.74 453.17 127.23 450.78 131.72 448.39C136.22 445.99 140.71 443.6 145.2 441.21C149.69 438.82 154.18 436.43 158.67 434.05C163.17 431.66 167.21 429.51 172.15 426.89C177.09 424.27 183.83 420.7 188.32 418.32C192.81 415.94 195.06 414.76 199.1 412.62C203.14 410.48 208.08 407.87 212.57 405.5C217.07 403.12 221.56 400.75 226.05 398.38C230.54 396.01 235.03 393.65 239.53 391.28C244.02 388.92 248.51 386.55 253 384.19C257.49 381.83 261.98 379.47 266.47 377.11C270.97 374.75 275.46 372.39 279.95 370.04C284.44 367.68 288.93 365.33 293.42 362.98C297.92 360.63 304.65 357.11 306.9 355.93" stroke="#16c6d0"/><path d="M37.4 498.9C39.65 497.71 46.38 494.12 50.88 491.73C55.37 489.34 59.86 486.96 64.35 484.57C68.84 482.19 73.33 479.8 77.82 477.42C82.32 475.04 86.81 472.66 91.3 470.28C95.79 467.9 100.28 465.53 104.78 463.15C109.27 460.78 113.76 458.4 118.25 456.03C122.74 453.66 127.23 451.29 131.72 448.92C136.22 446.55 140.71 444.19 145.2 441.82C149.69 439.46 154.18 437.09 158.67 434.73C163.17 432.37 167.21 430.24 172.15 427.65C177.09 425.05 183.83 421.52 188.32 419.16C192.81 416.81 195.06 415.63 199.1 413.52C203.14 411.4 208.08 408.81 212.57 406.47C217.07 404.12 221.56 401.77 226.05 399.42C230.54 397.08 235.03 394.73 239.53 392.39C244.02 390.05 248.51 387.71 253 385.37C257.49 383.03 261.98 380.69 266.47 378.36C270.97 376.02 275.46 373.69 279.95 371.36C284.44 369.02 288.93 366.69 293.42 364.36C297.92 362.03 304.65 358.54 306.9 357.38" stroke="#6c2c2c"/><path d="M37.4 498.9C39.65 497.72 46.38 494.17 50.88 491.81C55.37 489.44 59.86 487.08 64.35 484.72C68.84 482.36 73.33 480.01 77.82 477.65C82.32 475.29 86.81 472.94 91.3 470.58C95.79 468.23 100.28 465.88 104.78 463.53C109.27 461.18 113.76 458.83 118.25 456.48C122.74 454.14 127.23 451.79 131.72 449.45C136.22 447.1 140.71 444.76 145.2 442.42C149.69 440.08 154.18 437.74 158.67 435.4C163.17 433.06 167.21 430.96 172.15 428.39C177.09 425.82 183.83 422.32 188.32 419.99C192.81 417.66 195.06 416.49 199.1 414.4C203.14 412.3 208.08 409.74 212.57 407.42C217.07 405.09 221.56 402.77 226.05 400.44C230.54 398.12 235.03 395.8 239.53 393.48C244.02 391.16 248.51 388.84 253 386.52C257.49 384.21 261.98 381.89 266.47 379.58C270.97 377.27 275.46 374.95 279.95 372.64C284.44 370.33 288.93 368.02 293.42 365.72C297.92 363.41 304.65 359.95 306.9 358.8" stroke="#808410"/><path d="M37.4 498.9C39.65 497.73 46.38 494.22 50.88 491.88C55.37 489.54 59.86 487.21 64.35 484.87C68.84 482.54 73.33 480.21 77.82 477.87C82.32 475.54 86.81 473.21 91.3 470.88C95.79 468.55 100.28 466.22 104.78 463.9C109.27 461.57 113.76 459.25 118.25 456.92C122.74 454.6 127.23 452.28 131.72 449.96C136.22 447.64 140.71 445.32 145.2 443C149.69 440.68 154.18 438.37 158.67 436.05C163.17 433.74 167.21 431.66 172.15 429.11C177.09 426.57 183.83 423.11 188.32 420.8C192.81 418.49 195.06 417.33 199.1 415.26C203.14 413.18 208.08 410.65 212.57 408.35C217.07 406.04 221.56 403.74 226.05 401.44C230.54 399.14 235.03 396.84 239.53 394.54C244.02 392.25 248.51 389.95 253 387.66C257.49 385.36 261.98 383.07 266.47 380.78C270.97 378.49 275.46 376.2 279.95 373.91C284.44 371.62 288.93 369.33 293.42 367.05C297.92 364.76 304.65 361.33 306.9 360.19" stroke="#ff5a0a"/><path d="M37.4 498.9C39.65 497.74 46.38 494.27 50.88 491.96C55.37 489.64 59.86 487.33 64.35 485.02C68.84 482.71 73.33 480.4 77.82 478.09C82.32 475.78 86.81 473.48 91.3 471.17C95.79 468.87 100.28 466.56 104.78 464.26C109.27 461.96 113.76 459.66 118.25 457.36C122.74 455.06 127.23 452.76 131.72 450.46C136.22 448.16 140.71 445.87 145.2 443.57C149.69 441.28 154.18 438.99 158.67 436.69C163.17 434.4 167.21 432.34 172.15 429.82C177.09 427.31 183.83 423.87 188.32 421.59C192.81 419.3 195.06 418.16 199.1 416.1C203.14 414.05 208.08 411.54 212.57 409.26C217.07 406.98 221.56 404.7 226.05 402.42C230.54 400.14 235.03 397.86 239.53 395.59C244.02 393.31 248.51 391.04 253 388.77C257.49 386.49 261.98 384.22 266.47 381.95C270.97 379.68 275.46 377.41 279.95 375.15C284.44 372.88 288.93 370.61 293.42 368.35C297.92 366.08 304.65 362.69 306.9 361.56" stroke="#5c8ee0"/><path d="M37.4 498.9C39.65 497.75 46.38 494.32 50.88 492.03C55.37 489.74 59.86 487.45 64.35 485.16C68.84 482.88 73.33 480.59 77.82 478.31C82.32 476.02 86.81 473.74 91.3 471.46C95.79 469.17 100.28 466.89 104.78 464.61C109.27 462.34 113.76 460.06 118.25 457.78C122.74 455.5 127.23 453.23 131.72 450.95C136.22 448.68 140.71 446.41 145.2 444.13C149.69 441.86 154.18 439.59 158.67 437.32C163.17 435.05 167.21 433.01 172.15 430.52C177.09 428.03 183.83 424.63 188.32 422.36C192.81 420.1 195.06 418.97 199.1 416.93C203.14 414.9 208.08 412.41 212.57 410.15C217.07 407.89 221.56 405.63 226.05 403.38C230.54 401.12 235.03 398.87 239.53 396.61C244.02 394.36 248.51 392.11 253 389.85C257.49 387.6 261.98 385.35 266.47 383.1C270.97 380.85 275.46 378.61 279.95 376.36C284.44 374.11 288.93 371.87 293.42 369.62C297.92 367.38 304.65 364.02 306.9 362.9" stroke="#5eb424"/><path d="M37.4 498.9C39.65 497.77 46.38 494.36 50.88 492.1C55.37 489.83 59.86 487.57 64.35 485.3C68.84 483.04 73.33 480.78 77.82 478.52C82.32 476.25 86.81 473.99 91.3 471.74C95.79 469.48 100.28 467.22 104.78 464.96C109.27 462.71 113.76 460.45 118.25 458.2C122.74 455.94 127.23 453.69 131.72 451.44C136.22 449.18 140.71 446.93 145.2 444.68C149.69 442.43 154.18 440.19 158.67 437.94C163.17 435.69 167.21 433.67 172.15 431.2C177.09 428.73 183.83 425.37 188.32 423.12C192.81 420.88 195.06 419.76 199.1 417.75C203.14 415.73 208.08 413.27 212.57 411.03C217.07 408.79 221.56 406.55 226.05 404.32C230.54 402.08 235.03 399.85 239.53 397.62C244.02 395.38 248.51 393.15 253 390.92C257.49 388.69 261.98 386.46 266.47 384.23C270.97 382 275.46 379.78 279.95 377.55C284.44 375.32 288.93 373.1 293.42 370.88C297.92 368.65 304.65 365.32 306.9 364.21" stroke="#3a3a46"/><path d="M37.4 498.9C39.65 497.78 46.38 494.41 50.88 492.17C55.37 489.92 59.86 487.68 64.35 485.44C68.84 483.2 73.33 480.96 77.82 478.72C82.32 476.48 86.81 474.25 91.3 472.01C95.79 469.77 100.28 467.54 104.78 465.3C109.27 463.07 113.76 460.83 118.25 458.6C122.74 456.37 127.23 454.14 131.72 451.91C136.22 449.68 140.71 447.45 145.2 445.22C149.69 442.99 154.18 440.77 158.67 438.54C163.17 436.32 167.21 434.31 172.15 431.87C177.09 429.42 183.83 426.09 188.32 423.87C192.81 421.65 195.06 420.54 199.1 418.54C203.14 416.54 208.08 414.1 212.57 411.89C217.07 409.67 221.56 407.45 226.05 405.24C230.54 403.03 235.03 400.81 239.53 398.6C244.02 396.39 248.51 394.18 253 391.97C257.49 389.76 261.98 387.55 266.47 385.34C270.97 383.13 275.46 380.92 279.95 378.72C284.44 376.51 288.93 374.31 293.42 372.1C297.92 369.9 304.65 366.6 306.9 365.5" stroke="#e8282c"/><path d="M37.4 498.9C39.65 497.79 46.38 494.46 50.88 492.23C55.37 490.01 59.86 487.79 64.35 485.58C68.84 483.36 73.33 481.14 77.82 478.92C82.32 476.71 86.81 474.49 91.3 472.28C95.79 470.06 100.28 467.85 104.78 465.64C109.27 463.42 113.76 461.21 118.25 459C122.74 456.79 127.23 454.58 131.72 452.37C136.22 450.16 140.71 447.96 145.2 445.75C149.69 443.54 154.18 441.34 158.67 439.13C163.17 436.93 167.21 434.95 172.15 432.52C177.09 430.1 183.83 426.8 188.32 424.6C192.81 422.4 195.06 421.3 199.1 419.32C203.14 417.34 208.08 414.93 212.57 412.73C217.07 410.53 221.56 408.34 226.05 406.14C230.54 403.95 235.03 401.76 239.53 399.56C244.02 397.37 248.51 395.18 253 392.99C257.49 390.8 261.98 388.61 266.47 386.42C270.97 384.24 275.46 382.05 279.95 379.86C284.44 377.68 288.93 375.49 293.42 373.31C297.92 371.12 304.65 367.85 306.9 366.76" stroke="#1f52e0"/><path d="M37.4 498.9C39.65 497.8 46.38 494.5 50.88 492.3C55.37 490.1 59.86 487.9 64.35 485.71C68.84 483.51 73.33 481.32 77.82 479.12C82.32 476.93 86.81 474.73 91.3 472.54C95.79 470.35 100.28 468.15 104.78 465.96C109.27 463.77 113.76 461.58 118.25 459.39C122.74 457.2 127.23 455.01 131.72 452.83C136.22 450.64 140.71 448.45 145.2 446.27C149.69 444.08 154.18 441.9 158.67 439.71C163.17 437.53 167.21 435.57 172.15 433.17C177.09 430.77 183.83 427.5 188.32 425.32C192.81 423.14 195.06 422.05 199.1 420.09C203.14 418.13 208.08 415.73 212.57 413.56C217.07 411.38 221.56 409.21 226.05 407.03C230.54 404.86 235.03 402.68 239.53 400.51C244.02 398.34 248.51 396.17 253 394C257.49 391.83 261.98 389.66 266.47 387.49C270.97 385.32 275.46 383.15 279.95 380.99C284.44 378.82 288.93 376.65 293.42 374.49C297.92 372.32 304.65 369.08 306.9 368" stroke="#1f9a52"/><path d="M37.4 498.9C39.65 497.81 46.38 494.54 50.88 492.37C55.37 490.19 59.86 488.01 64.35 485.84C68.84 483.66 73.33 481.49 77.82 479.31C82.32 477.14 86.81 474.97 91.3 472.8C95.79 470.62 100.28 468.45 104.78 466.28C109.27 464.11 113.76 461.94 118.25 459.78C122.74 457.61 127.23 455.44 131.72 453.27C136.22 451.11 140.71 448.94 145.2 446.78C149.69 444.61 154.18 442.45 158.67 440.28C163.17 438.12 167.21 436.17 172.15 433.8C177.09 431.42 183.83 428.18 188.32 426.02C192.81 423.86 195.06 422.78 199.1 420.84C203.14 418.9 208.08 416.52 212.57 414.37C217.07 412.21 221.56 410.06 226.05 407.9C230.54 405.75 235.03 403.59 239.53 401.44C244.02 399.29 248.51 397.14 253 394.99C257.49 392.83 261.98 390.68 266.47 388.53C270.97 386.39 275.46 384.24 279.95 382.09C284.44 379.94 288.93 377.8 293.42 375.65C297.92 373.5 304.65 370.29 306.9 369.22" stroke="#a656e6"/><path d="M37.4 498.9C39.65 497.82 46.38 494.59 50.88 492.43C55.37 490.27 59.86 488.12 64.35 485.96C68.84 483.81 73.33 481.66 77.82 479.5C82.32 477.35 86.81 475.2 91.3 473.05C95.79 470.9 100.28 468.75 104.78 466.6C109.27 464.45 113.76 462.3 118.25 460.15C122.74 458 127.23 455.86 131.72 453.71C136.22 451.56 140.71 449.42 145.2 447.27C149.69 445.13 154.18 442.98 158.67 440.84C163.17 438.7 167.21 436.77 172.15 434.41C177.09 432.06 183.83 428.85 188.32 426.71C192.81 424.57 195.06 423.5 199.1 421.58C203.14 419.65 208.08 417.3 212.57 415.16C217.07 413.03 221.56 410.89 226.05 408.76C230.54 406.62 235.03 404.49 239.53 402.35C244.02 400.22 248.51 398.09 253 395.95C257.49 393.82 261.98 391.69 266.47 389.56C270.97 387.43 275.46 385.3 279.95 383.17C284.44 381.04 288.93 378.92 293.42 376.79C297.92 374.66 304.65 371.47 306.9 370.41" stroke="#d09400"/><path d="M37.4 498.9C39.65 497.83 46.38 494.63 50.88 492.49C55.37 490.36 59.86 488.22 64.35 486.09C68.84 483.96 73.33 481.82 77.82 479.69C82.32 477.56 86.81 475.43 91.3 473.3C95.79 471.17 100.28 469.04 104.78 466.91C109.27 464.78 113.76 462.65 118.25 460.52C122.74 458.39 127.23 456.27 131.72 454.14C136.22 452.01 140.71 449.89 145.2 447.76C149.69 445.64 154.18 443.51 158.67 441.39C163.17 439.27 167.21 437.36 172.15 435.02C177.09 432.69 183.83 429.51 188.32 427.39C192.81 425.27 195.06 424.21 199.1 422.3C203.14 420.39 208.08 418.06 212.57 415.94C217.07 413.83 221.56 411.71 226.05 409.59C230.54 407.48 235.03 405.36 239.53 403.25C244.02 401.13 248.51 399.02 253 396.91C257.49 394.79 261.98 392.68 266.47 390.57C270.97 388.46 275.46 386.35 279.95 384.23C284.44 382.12 288.93 380.02 293.42 377.91C297.92 375.8 304.65 372.64 306.9 371.58" stroke="#16c6d0"/><path d="M37.4 498.9C39.65 497.84 46.38 494.67 50.88 492.55C55.37 490.44 59.86 488.32 64.35 486.21C68.84 484.1 73.33 481.99 77.82 479.87C82.32 477.76 86.81 475.65 91.3 473.54C95.79 471.43 100.28 469.32 104.78 467.21C109.27 465.1 113.76 462.99 118.25 460.88C122.74 458.77 127.23 456.67 131.72 454.56C136.22 452.45 140.71 450.35 145.2 448.24C149.69 446.14 154.18 444.03 158.67 441.93C163.17 439.82 167.21 437.93 172.15 435.62C177.09 433.3 183.83 430.15 188.32 428.05C192.81 425.95 195.06 424.9 199.1 423.01C203.14 421.12 208.08 418.81 212.57 416.71C217.07 414.61 221.56 412.51 226.05 410.42C230.54 408.32 235.03 406.22 239.53 404.13C244.02 402.03 248.51 399.93 253 397.84C257.49 395.74 261.98 393.65 266.47 391.56C270.97 389.46 275.46 387.37 279.95 385.28C284.44 383.19 288.93 381.09 293.42 379C297.92 376.91 304.65 373.78 306.9 372.73" stroke="#6c2c2c"/><path d="M37.4 498.9C39.65 497.85 46.38 494.71 50.88 492.61C55.37 490.52 59.86 488.42 64.35 486.33C68.84 484.24 73.33 482.14 77.82 480.05C82.32 477.96 86.81 475.87 91.3 473.78C95.79 471.69 100.28 469.6 104.78 467.51C109.27 465.42 113.76 463.33 118.25 461.24C122.74 459.15 127.23 457.06 131.72 454.97C136.22 452.89 140.71 450.8 145.2 448.71C149.69 446.63 154.18 444.54 158.67 442.45C163.17 440.37 167.21 438.49 172.15 436.2C177.09 433.91 183.83 430.78 188.32 428.7C192.81 426.62 195.06 425.58 199.1 423.7C203.14 421.83 208.08 419.54 212.57 417.46C217.07 415.38 221.56 413.3 226.05 411.22C230.54 409.14 235.03 407.07 239.53 404.99C244.02 402.91 248.51 400.83 253 398.76C257.49 396.68 261.98 394.6 266.47 392.53C270.97 390.45 275.46 388.38 279.95 386.3C284.44 384.23 288.93 382.16 293.42 380.08C297.92 378.01 304.65 374.9 306.9 373.86" stroke="#808410"/><path d="M37.4 498.9C39.65 497.86 46.38 494.75 50.88 492.67C55.37 490.6 59.86 488.52 64.35 486.45C68.84 484.37 73.33 482.3 77.82 480.23C82.32 478.16 86.81 476.08 91.3 474.01C95.79 471.94 100.28 469.87 104.78 467.8C109.27 465.73 113.76 463.66 118.25 461.59C122.74 459.52 127.23 457.45 131.72 455.38C136.22 453.31 140.71 451.24 145.2 449.17C149.69 447.11 154.18 445.04 158.67 442.97C163.17 440.91 167.21 439.05 172.15 436.77C177.09 434.5 183.83 431.41 188.32 429.34C192.81 427.28 195.06 426.25 199.1 424.39C203.14 422.53 208.08 420.26 212.57 418.2C217.07 416.14 221.56 414.08 226.05 412.02C230.54 409.96 235.03 407.89 239.53 405.83C244.02 403.77 248.51 401.72 253 399.66C257.49 397.6 261.98 395.54 266.47 393.48C270.97 391.42 275.46 389.37 279.95 387.31C284.44 385.25 288.93 383.2 293.42 381.14C297.92 379.09 304.65 376 306.9 374.98" stroke="#ff5a0a"/><path d="M37.4 498.9C39.65 497.87 46.38 494.79 50.88 492.73C55.37 490.67 59.86 488.62 64.35 486.56C68.84 484.51 73.33 482.45 77.82 480.4C82.32 478.35 86.81 476.29 91.3 474.24C95.79 472.19 100.28 470.13 104.78 468.08C109.27 466.03 113.76 463.98 118.25 461.93C122.74 459.88 127.23 457.83 131.72 455.78C136.22 453.73 140.71 451.68 145.2 449.63C149.69 447.58 154.18 445.53 158.67 443.48C163.17 441.43 167.21 439.59 172.15 437.34C177.09 435.09 183.83 432.02 188.32 429.97C192.81 427.92 195.06 426.9 199.1 425.06C203.14 423.22 208.08 420.97 212.57 418.93C217.07 416.88 221.56 414.84 226.05 412.79C230.54 410.75 235.03 408.71 239.53 406.67C244.02 404.62 248.51 402.58 253 400.54C257.49 398.5 261.98 396.46 266.47 394.42C270.97 392.38 275.46 390.34 279.95 388.3C284.44 386.26 288.93 384.22 293.42 382.18C297.92 380.14 304.65 377.09 306.9 376.07" stroke="#5c8ee0"/><path d="M37.4 498.9C39.65 497.88 46.38 494.82 50.88 492.79C55.37 490.75 59.86 488.71 64.35 486.68C68.84 484.64 73.33 482.61 77.82 480.57C82.32 478.54 86.81 476.5 91.3 474.47C95.79 472.43 100.28 470.4 104.78 468.36C109.27 466.33 113.76 464.3 118.25 462.26C122.74 460.23 127.23 458.2 131.72 456.17C136.22 454.14 140.71 452.1 145.2 450.07C149.69 448.04 154.18 446.01 158.67 443.98C163.17 441.95 167.21 440.12 172.15 437.89C177.09 435.66 183.83 432.62 188.32 430.59C192.81 428.56 195.06 427.55 199.1 425.72C203.14 423.9 208.08 421.67 212.57 419.64C217.07 417.61 221.56 415.59 226.05 413.56C230.54 411.53 235.03 409.51 239.53 407.48C244.02 405.46 248.51 403.43 253 401.41C257.49 399.39 261.98 397.36 266.47 395.34C270.97 393.31 275.46 391.29 279.95 389.27C284.44 387.25 288.93 385.22 293.42 383.2C297.92 381.18 304.65 378.15 306.9 377.14" stroke="#5eb424"/><path d="M37.4 498.9C39.65 497.89 46.38 494.86 50.88 492.84C55.37 490.82 59.86 488.81 64.35 486.79C68.84 484.77 73.33 482.75 77.82 480.74C82.32 478.72 86.81 476.7 91.3 474.69C95.79 472.67 100.28 470.65 104.78 468.64C109.27 466.62 113.76 464.61 118.25 462.59C122.74 460.58 127.23 458.56 131.72 456.55C136.22 454.54 140.71 452.52 145.2 450.51C149.69 448.5 154.18 446.48 158.67 444.47C163.17 442.46 167.21 440.65 172.15 438.43C177.09 436.22 183.83 433.2 188.32 431.19C192.81 429.18 195.06 428.18 199.1 426.37C203.14 424.56 208.08 422.35 212.57 420.34C217.07 418.33 221.56 416.32 226.05 414.31C230.54 412.3 235.03 410.29 239.53 408.29C244.02 406.28 248.51 404.27 253 402.26C257.49 400.26 261.98 398.25 266.47 396.24C270.97 394.24 275.46 392.23 279.95 390.22C284.44 388.22 288.93 386.21 293.42 384.21C297.92 382.2 304.65 379.2 306.9 378.19" stroke="#3a3a46"/><path d="M37.4 498.9C39.65 497.9 46.38 494.9 50.88 492.9C55.37 490.9 59.86 488.9 64.35 486.9C68.84 484.9 73.33 482.9 77.82 480.9C82.32 478.9 86.81 476.9 91.3 474.9C95.79 472.91 100.28 470.91 104.78 468.91C109.27 466.91 113.76 464.91 118.25 462.92C122.74 460.92 127.23 458.92 131.72 456.93C136.22 454.93 140.71 452.94 145.2 450.94C149.69 448.94 154.18 446.95 158.67 444.95C163.17 442.96 167.21 441.16 172.15 438.97C177.09 436.77 183.83 433.78 188.32 431.79C192.81 429.8 195.06 428.8 199.1 427.01C203.14 425.21 208.08 423.02 212.57 421.03C217.07 419.03 221.56 417.04 226.05 415.05C230.54 413.06 235.03 411.07 239.53 409.07C244.02 407.08 248.51 405.09 253 403.1C257.49 401.11 261.98 399.12 266.47 397.13C270.97 395.14 275.46 393.15 279.95 391.16C284.44 389.17 288.93 387.18 293.42 385.19C297.92 383.21 304.65 380.22 306.9 379.23" stroke="#e8282c"/><path d="M37.4 498.9C39.65 497.91 46.38 494.93 50.88 492.95C55.37 490.97 59.86 488.99 64.35 487.01C68.84 485.02 73.33 483.04 77.82 481.06C82.32 479.08 86.81 477.1 91.3 475.12C95.79 473.14 100.28 471.16 104.78 469.18C109.27 467.2 113.76 465.22 118.25 463.24C122.74 461.26 127.23 459.28 131.72 457.3C136.22 455.32 140.71 453.34 145.2 451.36C149.69 449.38 154.18 447.4 158.67 445.43C163.17 443.45 167.21 441.67 172.15 439.49C177.09 437.32 183.83 434.35 188.32 432.37C192.81 430.4 195.06 429.41 199.1 427.63C203.14 425.85 208.08 423.68 212.57 421.7C217.07 419.73 221.56 417.75 226.05 415.78C230.54 413.8 235.03 411.82 239.53 409.85C244.02 407.88 248.51 405.9 253 403.93C257.49 401.95 261.98 399.98 266.47 398C270.97 396.03 275.46 394.06 279.95 392.08C284.44 390.11 288.93 388.14 293.42 386.17C297.92 384.19 304.65 381.23 306.9 380.25" stroke="#1f52e0"/><path d="M37.4 498.9C39.65 497.92 46.38 494.97 50.88 493C55.37 491.04 59.86 489.08 64.35 487.11C68.84 485.15 73.33 483.18 77.82 481.22C82.32 479.25 86.81 477.29 91.3 475.33C95.79 473.36 100.28 471.4 104.78 469.44C109.27 467.47 113.76 465.51 118.25 463.55C122.74 461.59 127.23 459.62 131.72 457.66C136.22 455.7 140.71 453.74 145.2 451.78C149.69 449.81 154.18 447.85 158.67 445.89C163.17 443.93 167.21 442.16 172.15 440.01C177.09 437.85 183.83 434.91 188.32 432.95C192.81 430.99 195.06 430.01 199.1 428.25C203.14 426.48 208.08 424.33 212.57 422.37C217.07 420.41 221.56 418.45 226.05 416.49C230.54 414.53 235.03 412.57 239.53 410.61C244.02 408.65 248.51 406.69 253 404.74C257.49 402.78 261.98 400.82 266.47 398.86C270.97 396.91 275.46 394.95 279.95 392.99C284.44 391.03 288.93 389.08 293.42 387.12C297.92 385.16 304.65 382.23 306.9 381.25" stroke="#1f9a52"/><path d="M37.4 498.9C39.65 497.93 46.38 495 50.88 493.06C55.37 491.11 59.86 489.16 64.35 487.21C68.84 485.27 73.33 483.32 77.82 481.37C82.32 479.43 86.81 477.48 91.3 475.53C95.79 473.59 100.28 471.64 104.78 469.69C109.27 467.75 113.76 465.8 118.25 463.86C122.74 461.91 127.23 459.96 131.72 458.02C136.22 456.07 140.71 454.13 145.2 452.18C149.69 450.24 154.18 448.29 158.67 446.35C163.17 444.4 167.21 442.65 172.15 440.51C177.09 438.38 183.83 435.46 188.32 433.52C192.81 431.57 195.06 430.6 199.1 428.85C203.14 427.1 208.08 424.96 212.57 423.02C217.07 421.08 221.56 419.13 226.05 417.19C230.54 415.25 235.03 413.3 239.53 411.36C244.02 409.42 248.51 407.48 253 405.53C257.49 403.59 261.98 401.65 266.47 399.71C270.97 397.76 275.46 395.82 279.95 393.88C284.44 391.94 288.93 390 293.42 388.06C297.92 386.12 304.65 383.2 306.9 382.23" stroke="#a656e6"/><path d="M37.4 498.9C39.65 497.93 46.38 495.04 50.88 493.11C55.37 491.18 59.86 489.25 64.35 487.32C68.84 485.39 73.33 483.46 77.82 481.53C82.32 479.6 86.81 477.67 91.3 475.74C95.79 473.81 100.28 471.88 104.78 469.95C109.27 468.02 113.76 466.09 118.25 464.16C122.74 462.23 127.23 460.3 131.72 458.37C136.22 456.44 140.71 454.51 145.2 452.58C149.69 450.65 154.18 448.73 158.67 446.8C163.17 444.87 167.21 443.13 172.15 441.01C177.09 438.89 183.83 436 188.32 434.07C192.81 432.14 195.06 431.18 199.1 429.44C203.14 427.71 208.08 425.59 212.57 423.66C217.07 421.73 221.56 419.81 226.05 417.88C230.54 415.95 235.03 414.02 239.53 412.1C244.02 410.17 248.51 408.24 253 406.32C257.49 404.39 261.98 402.46 266.47 400.54C270.97 398.61 275.46 396.68 279.95 394.76C284.44 392.83 288.93 390.91 293.42 388.98C297.92 387.05 304.65 384.16 306.9 383.2" stroke="#d09400"/><path d="M37.4 498.9C39.65 497.94 46.38 495.07 50.88 493.16C55.37 491.24 59.86 489.33 64.35 487.42C68.84 485.5 73.33 483.59 77.82 481.68C82.32 479.76 86.81 477.85 91.3 475.93C95.79 474.02 100.28 472.11 104.78 470.19C109.27 468.28 113.76 466.37 118.25 464.46C122.74 462.54 127.23 460.63 131.72 458.72C136.22 456.8 140.71 454.89 145.2 452.98C149.69 451.06 154.18 449.15 158.67 447.24C163.17 445.33 167.21 443.61 172.15 441.5C177.09 439.4 183.83 436.53 188.32 434.62C192.81 432.71 195.06 431.75 199.1 430.03C203.14 428.31 208.08 426.2 212.57 424.29C217.07 422.38 221.56 420.47 226.05 418.56C230.54 416.64 235.03 414.73 239.53 412.82C244.02 410.91 248.51 409 253 407.09C257.49 405.18 261.98 403.26 266.47 401.35C270.97 399.44 275.46 397.53 279.95 395.62C284.44 393.71 288.93 391.8 293.42 389.89C297.92 387.98 304.65 385.11 306.9 384.15" stroke="#16c6d0"/><path d="M37.4 498.9C39.65 497.95 46.38 495.1 50.88 493.21C55.37 491.31 59.86 489.41 64.35 487.51C68.84 485.62 73.33 483.72 77.82 481.82C82.32 479.92 86.81 478.03 91.3 476.13C95.79 474.23 100.28 472.34 104.78 470.44C109.27 468.54 113.76 466.64 118.25 464.75C122.74 462.85 127.23 460.95 131.72 459.06C136.22 457.16 140.71 455.26 145.2 453.36C149.69 451.47 154.18 449.57 158.67 447.67C163.17 445.78 167.21 444.07 172.15 441.98C177.09 439.9 183.83 437.05 188.32 435.15C192.81 433.26 195.06 432.31 199.1 430.6C203.14 428.9 208.08 426.81 212.57 424.91C217.07 423.02 221.56 421.12 226.05 419.22C230.54 417.33 235.03 415.43 239.53 413.53C244.02 411.64 248.51 409.74 253 407.84C257.49 405.95 261.98 404.05 266.47 402.16C270.97 400.26 275.46 398.36 279.95 396.47C284.44 394.57 288.93 392.68 293.42 390.78C297.92 388.88 304.65 386.04 306.9 385.09" stroke="#6c2c2c"/><path d="M37.4 498.9C39.65 497.96 46.38 495.14 50.88 493.26C55.37 491.37 59.86 489.49 64.35 487.61C68.84 485.73 73.33 483.85 77.82 481.97C82.32 480.09 86.81 478.2 91.3 476.32C95.79 474.44 100.28 472.56 104.78 470.68C109.27 468.8 113.76 466.92 118.25 465.03C122.74 463.15 127.23 461.27 131.72 459.39C136.22 457.51 140.71 455.63 145.2 453.74C149.69 451.86 154.18 449.98 158.67 448.1C163.17 446.22 167.21 444.53 172.15 442.46C177.09 440.39 183.83 437.56 188.32 435.68C192.81 433.8 195.06 432.86 199.1 431.17C203.14 429.47 208.08 427.4 212.57 425.52C217.07 423.64 221.56 421.76 226.05 419.88C230.54 418 235.03 416.12 239.53 414.23C244.02 412.35 248.51 410.47 253 408.59C257.49 406.71 261.98 404.83 266.47 402.95C270.97 401.06 275.46 399.18 279.95 397.3C284.44 395.42 288.93 393.54 293.42 391.66C297.92 389.78 304.65 386.95 306.9 386.01" stroke="#808410"/></g><g fill="none" stroke-width="2.9" stroke-linecap="round"><path d="M50.88 491.37h0M64.35 483.85h0M77.82 476.32h0M91.3 468.8h0M104.78 461.27h0M118.25 453.75h0M131.72 446.22h0M145.2 438.7h0M158.67 431.11h0M172.15 422.45h0M188.32 406.79h0M199.1 399.32h0M212.57 391.24h0M226.05 383.26h0M239.53 375.28h0M253 367.3h0M266.47 359.33h0M279.95 351.35h0M293.42 343.37h0M306.9 335.4h0" stroke="#3a3a46"/><path d="M50.88 491.37h0M64.35 483.85h0M77.82 476.32h0M91.3 468.8h0M104.78 461.27h0M118.25 453.75h0M131.72 446.22h0M145.2 438.7h0M158.67 431.11h0M172.15 422.45h0M188.32 406.79h0M199.1 399.32h0M212.57 391.24h0M226.05 383.26h0M239.53 375.28h0M253 367.3h0M266.47 359.33h0M279.95 351.35h0M293.42 343.37h0M306.9 335.4h0" stroke="#e8282c"/><path d="M50.88 491.27h0M64.35 483.63h0M77.82 476h0M91.3 468.38h0M104.78 460.75h0M118.25 453.12h0M131.72 445.5h0M145.2 437.88h0M158.67 430.2h0M172.15 421.51h0M188.32 406.1h0M199.1 398.64h0M212.57 390.49h0M226.05 382.45h0M239.53 374.42h0M253 366.38h0M266.47 358.35h0M279.95 350.32h0M293.42 342.29h0M306.9 334.27h0" stroke="#1f52e0"/><path d="M50.88 491.07h0M64.35 483.24h0M77.82 475.42h0M91.3 467.6h0M104.78 459.79h0M118.25 451.98h0M131.72 444.18h0M145.2 436.38h0M158.67 428.54h0M172.15 419.78h0M188.32 404.83h0M199.1 397.38h0M212.57 389.14h0M226.05 380.98h0M239.53 372.84h0M253 364.7h0M266.47 356.57h0M279.95 348.44h0M293.42 340.32h0M306.9 332.2h0" stroke="#1f9a52"/><path d="M50.88 490.81h0M64.35 482.73h0M77.82 474.66h0M91.3 466.59h0M104.78 458.54h0M118.25 450.5h0M131.72 442.46h0M145.2 434.44h0M158.67 426.38h0M172.15 417.55h0M188.32 403.19h0M199.1 395.76h0M212.57 387.38h0M226.05 379.08h0M239.53 370.8h0M253 362.52h0M266.47 354.26h0M279.95 346h0M293.42 337.76h0M306.9 329.52h0" stroke="#a656e6"/><path d="M50.88 490.5h0M64.35 482.12h0M77.82 473.76h0M91.3 465.4h0M104.78 457.07h0M118.25 448.74h0M131.72 440.43h0M145.2 432.14h0M158.67 423.82h0M172.15 414.91h0M188.32 401.25h0M199.1 393.84h0M212.57 385.3h0M226.05 376.83h0M239.53 368.38h0M253 359.94h0M266.47 351.52h0M279.95 343.12h0M293.42 334.72h0M306.9 326.35h0" stroke="#d09400"/><path d="M50.88 490.16h0M64.35 481.44h0M77.82 472.74h0M91.3 464.05h0M104.78 455.39h0M118.25 446.75h0M131.72 438.13h0M145.2 429.53h0M158.67 420.93h0M172.15 411.92h0M188.32 399.04h0M199.1 391.65h0M212.57 382.93h0M226.05 374.27h0M239.53 365.63h0M253 357.02h0M266.47 348.42h0M279.95 339.84h0M293.42 331.28h0M306.9 322.75h0" stroke="#16c6d0"/><path d="M50.88 489.78h0M64.35 480.68h0M77.82 471.61h0M91.3 462.56h0M104.78 453.54h0M118.25 444.55h0M131.72 435.59h0M145.2 426.65h0M158.67 417.72h0M172.15 408.6h0M188.32 396.61h0M199.1 389.24h0M212.57 380.32h0M226.05 371.45h0M239.53 362.6h0M253 353.78h0M266.47 344.99h0M279.95 336.22h0M293.42 327.48h0M306.9 318.77h0" stroke="#6c2c2c"/><path d="M50.88 489.36h0M64.35 479.85h0M77.82 470.38h0M91.3 460.94h0M104.78 451.53h0M118.25 442.16h0M131.72 432.82h0M145.2 423.51h0M158.67 414.24h0M172.15 405h0M188.32 393.96h0M199.1 386.62h0M212.57 377.48h0M226.05 368.38h0M239.53 359.3h0M253 350.26h0M266.47 341.26h0M279.95 332.29h0M293.42 323.35h0M306.9 314.44h0" stroke="#808410"/><path d="M50.88 489.49h0M64.35 480.12h0M77.82 470.78h0M91.3 461.47h0M104.78 452.19h0M118.25 442.95h0M131.72 433.73h0M145.2 424.55h0M158.67 415.4h0M172.15 406.28h0M188.32 395.38h0M199.1 388.14h0M212.57 379.11h0M226.05 370.12h0M239.53 361.16h0M253 352.23h0M266.47 343.34h0M279.95 334.47h0M293.42 325.64h0M306.9 316.84h0" stroke="#ff5a0a"/><path d="M50.88 489.63h0M64.35 480.38h0M77.82 471.17h0M91.3 461.99h0M104.78 452.83h0M118.25 443.71h0M131.72 434.62h0M145.2 425.56h0M158.67 416.53h0M172.15 407.52h0M188.32 396.76h0M199.1 389.61h0M212.57 380.7h0M226.05 371.82h0M239.53 362.97h0M253 354.15h0M266.47 345.36h0M279.95 336.6h0M293.42 327.87h0M306.9 319.18h0" stroke="#5c8ee0"/><path d="M50.88 489.75h0M64.35 480.64h0M77.82 471.55h0M91.3 462.49h0M104.78 453.46h0M118.25 444.46h0M131.72 435.48h0M145.2 426.54h0M158.67 417.62h0M172.15 408.74h0M188.32 398.11h0M199.1 391.05h0M212.57 382.25h0M226.05 373.48h0M239.53 364.73h0M253 356.02h0M266.47 347.34h0M279.95 338.68h0M293.42 330.05h0M306.9 321.45h0" stroke="#5eb424"/><path d="M50.88 489.88h0M64.35 480.88h0M77.82 471.92h0M91.3 462.98h0M104.78 454.07h0M118.25 445.18h0M131.72 436.32h0M145.2 427.49h0M158.67 418.69h0M172.15 409.92h0M188.32 399.42h0M199.1 392.45h0M212.57 383.76h0M226.05 375.09h0M239.53 366.45h0M253 357.84h0M266.47 349.26h0M279.95 340.7h0M293.42 332.18h0M306.9 323.67h0" stroke="#3a3a46"/><path d="M50.88 490h0M64.35 481.12h0M77.82 472.28h0M91.3 463.45h0M104.78 454.66h0M118.25 445.89h0M131.72 437.14h0M145.2 428.43h0M158.67 419.73h0M172.15 411.07h0M188.32 400.7h0M199.1 393.81h0M212.57 385.23h0M226.05 376.66h0M239.53 368.13h0M253 359.62h0M266.47 351.13h0M279.95 342.68h0M293.42 334.25h0M306.9 325.84h0" stroke="#e8282c"/><path d="M50.88 490.12h0M64.35 481.36h0M77.82 472.63h0M91.3 463.92h0M104.78 455.23h0M118.25 446.58h0M131.72 437.94h0M145.2 429.33h0M158.67 420.75h0M172.15 412.19h0M188.32 401.95h0M199.1 395.14h0M212.57 386.66h0M226.05 378.2h0M239.53 369.76h0M253 361.35h0M266.47 352.96h0M279.95 344.6h0M293.42 336.27h0M306.9 327.95h0" stroke="#1f52e0"/><path d="M50.88 490.23h0M64.35 481.59h0M77.82 472.97h0M91.3 464.37h0M104.78 455.8h0M118.25 447.25h0M131.72 438.72h0M145.2 430.22h0M158.67 421.74h0M172.15 413.28h0M188.32 403.16h0M199.1 396.44h0M212.57 388.05h0M226.05 379.69h0M239.53 371.35h0M253 363.04h0M266.47 354.75h0M279.95 346.48h0M293.42 338.24h0M306.9 330.02h0" stroke="#1f9a52"/><path d="M50.88 490.34h0M64.35 481.81h0M77.82 473.3h0M91.3 464.81h0M104.78 456.34h0M118.25 447.9h0M131.72 439.48h0M145.2 431.08h0M158.67 422.7h0M172.15 414.35h0M188.32 404.35h0M199.1 397.7h0M212.57 389.42h0M226.05 381.15h0M239.53 372.91h0M253 364.69h0M266.47 356.49h0M279.95 348.32h0M293.42 340.16h0M306.9 332.03h0" stroke="#a656e6"/><path d="M50.88 490.45h0M64.35 482.03h0M77.82 473.62h0M91.3 465.24h0M104.78 456.88h0M118.25 448.54h0M131.72 440.22h0M145.2 431.92h0M158.67 423.64h0M172.15 415.39h0M188.32 405.51h0M199.1 398.94h0M212.57 390.75h0M226.05 382.58h0M239.53 374.43h0M253 366.3h0M266.47 358.19h0M279.95 350.11h0M293.42 342.04h0M306.9 334h0" stroke="#d09400"/><path d="M50.88 490.56h0M64.35 482.24h0M77.82 473.94h0M91.3 465.66h0M104.78 457.4h0M118.25 449.16h0M131.72 440.94h0M145.2 432.74h0M158.67 424.56h0M172.15 416.4h0M188.32 406.63h0M199.1 400.14h0M212.57 392.04h0M226.05 383.96h0M239.53 375.91h0M253 367.87h0M266.47 359.85h0M279.95 351.85h0M293.42 343.88h0M306.9 335.92h0" stroke="#16c6d0"/><path d="M50.88 490.66h0M64.35 482.44h0M77.82 474.25h0M91.3 466.07h0M104.78 457.9h0M118.25 449.76h0M131.72 441.64h0M145.2 433.54h0M158.67 425.45h0M172.15 417.39h0M188.32 407.74h0M199.1 401.32h0M212.57 393.31h0M226.05 385.32h0M239.53 377.35h0M253 369.4h0M266.47 361.47h0M279.95 353.56h0M293.42 345.67h0M306.9 337.8h0" stroke="#6c2c2c"/><path d="M50.88 490.76h0M64.35 482.65h0M77.82 474.55h0M91.3 466.46h0M104.78 458.4h0M118.25 450.35h0M131.72 442.33h0M145.2 434.32h0M158.67 426.33h0M172.15 418.36h0M188.32 408.81h0M199.1 402.47h0M212.57 394.55h0M226.05 386.65h0M239.53 378.77h0M253 370.9h0M266.47 363.06h0M279.95 355.23h0M293.42 347.42h0M306.9 339.63h0" stroke="#808410"/><path d="M50.88 490.86h0M64.35 482.84h0M77.82 474.84h0M91.3 466.85h0M104.78 458.88h0M118.25 450.93h0M131.72 443h0M145.2 435.08h0M158.67 427.18h0M172.15 419.3h0M188.32 409.86h0M199.1 403.59h0M212.57 395.76h0M226.05 387.94h0M239.53 380.15h0M253 372.37h0M266.47 364.61h0M279.95 356.86h0M293.42 349.14h0M306.9 341.43h0" stroke="#ff5a0a"/><path d="M50.88 490.96h0M64.35 483.03h0M77.82 475.12h0M91.3 467.23h0M104.78 459.36h0M118.25 451.5h0M131.72 443.65h0M145.2 435.83h0M158.67 428.02h0M172.15 420.22h0M188.32 410.89h0M199.1 404.68h0M212.57 396.94h0M226.05 389.21h0M239.53 381.5h0M253 373.8h0M266.47 366.12h0M279.95 358.46h0M293.42 350.81h0M306.9 343.18h0" stroke="#5c8ee0"/><path d="M50.88 491.05h0M64.35 483.22h0M77.82 475.4h0M91.3 467.6h0M104.78 459.82h0M118.25 452.05h0M131.72 444.29h0M145.2 436.55h0M158.67 428.83h0M172.15 421.12h0M188.32 411.89h0M199.1 405.75h0M212.57 398.09h0M226.05 390.45h0M239.53 382.82h0M253 375.2h0M266.47 367.6h0M279.95 360.02h0M293.42 352.45h0M306.9 344.9h0" stroke="#5eb424"/><path d="M50.88 491.14h0M64.35 483.4h0M77.82 475.68h0M91.3 467.96h0M104.78 460.27h0M118.25 452.58h0M131.72 444.92h0M145.2 437.26h0M158.67 429.63h0M172.15 422h0M188.32 412.87h0M199.1 406.8h0M212.57 399.22h0M226.05 391.66h0M239.53 384.11h0M253 376.57h0M266.47 369.05h0M279.95 361.54h0M293.42 354.05h0M306.9 346.58h0" stroke="#3a3a46"/><path d="M50.88 491.23h0M64.35 483.58h0M77.82 475.94h0M91.3 468.32h0M104.78 460.71h0M118.25 453.11h0M131.72 445.53h0M145.2 437.96h0M158.67 430.4h0M172.15 422.86h0M188.32 413.83h0M199.1 407.82h0M212.57 400.32h0M226.05 392.84h0M239.53 385.37h0M253 377.91h0M266.47 370.47h0M279.95 363.04h0M293.42 355.62h0M306.9 348.22h0" stroke="#e8282c"/><path d="M50.88 491.32h0M64.35 483.76h0M77.82 476.2h0M91.3 468.66h0M104.78 461.14h0M118.25 453.62h0M131.72 446.13h0M145.2 438.64h0M158.67 431.17h0M172.15 423.7h0M188.32 414.77h0M199.1 408.82h0M212.57 401.4h0M226.05 394h0M239.53 386.6h0M253 379.22h0M266.47 371.85h0M279.95 364.5h0M293.42 357.16h0M306.9 349.83h0" stroke="#1f52e0"/><path d="M50.88 491.41h0M64.35 483.93h0M77.82 476.46h0M91.3 469h0M104.78 461.56h0M118.25 454.13h0M131.72 446.71h0M145.2 439.3h0M158.67 431.91h0M172.15 424.53h0M188.32 415.69h0M199.1 409.8h0M212.57 402.46h0M226.05 395.13h0M239.53 387.81h0M253 380.5h0M266.47 373.21h0M279.95 365.93h0M293.42 358.66h0M306.9 351.4h0" stroke="#1f9a52"/><path d="M50.88 491.49h0M64.35 484.09h0M77.82 476.71h0M91.3 469.33h0M104.78 461.97h0M118.25 454.62h0M131.72 447.28h0M145.2 439.95h0M158.67 432.64h0M172.15 425.33h0M188.32 416.58h0M199.1 410.76h0M212.57 403.49h0M226.05 396.24h0M239.53 388.99h0M253 381.76h0M266.47 374.54h0M279.95 367.33h0M293.42 360.13h0M306.9 352.94h0" stroke="#a656e6"/><path d="M50.88 491.57h0M64.35 484.26h0M77.82 476.95h0M91.3 469.66h0M104.78 462.37h0M118.25 455.1h0M131.72 447.84h0M145.2 440.59h0M158.67 433.35h0M172.15 426.12h0M188.32 417.46h0M199.1 411.7h0M212.57 404.5h0M226.05 397.32h0M239.53 390.15h0M253 382.99h0M266.47 375.84h0M279.95 368.7h0M293.42 361.57h0M306.9 354.45h0" stroke="#d09400"/><path d="M50.88 491.65h0M64.35 484.42h0M77.82 477.19h0M91.3 469.97h0M104.78 462.77h0M118.25 455.57h0M131.72 448.39h0M145.2 441.21h0M158.67 434.05h0M172.15 426.89h0M188.32 418.32h0M199.1 412.62h0M212.57 405.5h0M226.05 398.38h0M239.53 391.28h0M253 384.19h0M266.47 377.11h0M279.95 370.04h0M293.42 362.98h0M306.9 355.93h0" stroke="#16c6d0"/><path d="M50.88 491.73h0M64.35 484.57h0M77.82 477.42h0M91.3 470.28h0M104.78 463.15h0M118.25 456.03h0M131.72 448.92h0M145.2 441.82h0M158.67 434.73h0M172.15 427.65h0M188.32 419.16h0M199.1 413.52h0M212.57 406.47h0M226.05 399.42h0M239.53 392.39h0M253 385.37h0M266.47 378.36h0M279.95 371.36h0M293.42 364.36h0M306.9 357.38h0" stroke="#6c2c2c"/><path d="M50.88 491.81h0M64.35 484.72h0M77.82 477.65h0M91.3 470.58h0M104.78 463.53h0M118.25 456.48h0M131.72 449.45h0M145.2 442.42h0M158.67 435.4h0M172.15 428.39h0M188.32 419.99h0M199.1 414.4h0M212.57 407.42h0M226.05 400.44h0M239.53 393.48h0M253 386.52h0M266.47 379.58h0M279.95 372.64h0M293.42 365.72h0M306.9 358.8h0" stroke="#808410"/><path d="M50.88 491.88h0M64.35 484.87h0M77.82 477.87h0M91.3 470.88h0M104.78 463.9h0M118.25 456.92h0M131.72 449.96h0M145.2 443h0M158.67 436.05h0M172.15 429.11h0M188.32 420.8h0M199.1 415.26h0M212.57 408.35h0M226.05 401.44h0M239.53 394.54h0M253 387.66h0M266.47 380.78h0M279.95 373.91h0M293.42 367.05h0M306.9 360.19h0" stroke="#ff5a0a"/><path d="M50.88 491.96h0M64.35 485.02h0M77.82 478.09h0M91.3 471.17h0M104.78 464.26h0M118.25 457.36h0M131.72 450.46h0M145.2 443.57h0M158.67 436.69h0M172.15 429.82h0M188.32 421.59h0M199.1 416.1h0M212.57 409.26h0M226.05 402.42h0M239.53 395.59h0M253 388.77h0M266.47 381.95h0M279.95 375.15h0M293.42 368.35h0M306.9 361.56h0" stroke="#5c8ee0"/><path d="M50.88 492.03h0M64.35 485.16h0M77.82 478.31h0M91.3 471.46h0M104.78 464.61h0M118.25 457.78h0M131.72 450.95h0M145.2 444.13h0M158.67 437.32h0M172.15 430.52h0M188.32 422.36h0M199.1 416.93h0M212.57 410.15h0M226.05 403.38h0M239.53 396.61h0M253 389.85h0M266.47 383.1h0M279.95 376.36h0M293.42 369.62h0M306.9 362.9h0" stroke="#5eb424"/><path d="M50.88 492.1h0M64.35 485.3h0M77.82 478.52h0M91.3 471.74h0M104.78 464.96h0M118.25 458.2h0M131.72 451.44h0M145.2 444.68h0M158.67 437.94h0M172.15 431.2h0M188.32 423.12h0M199.1 417.75h0M212.57 411.03h0M226.05 404.32h0M239.53 397.62h0M253 390.92h0M266.47 384.23h0M279.95 377.55h0M293.42 370.88h0M306.9 364.21h0" stroke="#3a3a46"/><path d="M50.88 492.17h0M64.35 485.44h0M77.82 478.72h0M91.3 472.01h0M104.78 465.3h0M118.25 458.6h0M131.72 451.91h0M145.2 445.22h0M158.67 438.54h0M172.15 431.87h0M188.32 423.87h0M199.1 418.54h0M212.57 411.89h0M226.05 405.24h0M239.53 398.6h0M253 391.97h0M266.47 385.34h0M279.95 378.72h0M293.42 372.1h0M306.9 365.5h0" stroke="#e8282c"/><path d="M50.88 492.23h0M64.35 485.58h0M77.82 478.92h0M91.3 472.28h0M104.78 465.64h0M118.25 459h0M131.72 452.37h0M145.2 445.75h0M158.67 439.13h0M172.15 432.52h0M188.32 424.6h0M199.1 419.32h0M212.57 412.73h0M226.05 406.14h0M239.53 399.56h0M253 392.99h0M266.47 386.42h0M279.95 379.86h0M293.42 373.31h0M306.9 366.76h0" stroke="#1f52e0"/><path d="M50.88 492.3h0M64.35 485.71h0M77.82 479.12h0M91.3 472.54h0M104.78 465.96h0M118.25 459.39h0M131.72 452.83h0M145.2 446.27h0M158.67 439.71h0M172.15 433.17h0M188.32 425.32h0M199.1 420.09h0M212.57 413.56h0M226.05 407.03h0M239.53 400.51h0M253 394h0M266.47 387.49h0M279.95 380.99h0M293.42 374.49h0M306.9 368h0" stroke="#1f9a52"/><path d="M50.88 492.37h0M64.35 485.84h0M77.82 479.31h0M91.3 472.8h0M104.78 466.28h0M118.25 459.78h0M131.72 453.27h0M145.2 446.78h0M158.67 440.28h0M172.15 433.8h0M188.32 426.02h0M199.1 420.84h0M212.57 414.37h0M226.05 407.9h0M239.53 401.44h0M253 394.99h0M266.47 388.53h0M279.95 382.09h0M293.42 375.65h0M306.9 369.22h0" stroke="#a656e6"/><path d="M50.88 492.43h0M64.35 485.96h0M77.82 479.5h0M91.3 473.05h0M104.78 466.6h0M118.25 460.15h0M131.72 453.71h0M145.2 447.27h0M158.67 440.84h0M172.15 434.41h0M188.32 426.71h0M199.1 421.58h0M212.57 415.16h0M226.05 408.76h0M239.53 402.35h0M253 395.95h0M266.47 389.56h0M279.95 383.17h0M293.42 376.79h0M306.9 370.41h0" stroke="#d09400"/><path d="M50.88 492.49h0M64.35 486.09h0M77.82 479.69h0M91.3 473.3h0M104.78 466.91h0M118.25 460.52h0M131.72 454.14h0M145.2 447.76h0M158.67 441.39h0M172.15 435.02h0M188.32 427.39h0M199.1 422.3h0M212.57 415.94h0M226.05 409.59h0M239.53 403.25h0M253 396.91h0M266.47 390.57h0M279.95 384.23h0M293.42 377.91h0M306.9 371.58h0" stroke="#16c6d0"/><path d="M50.88 492.55h0M64.35 486.21h0M77.82 479.87h0M91.3 473.54h0M104.78 467.21h0M118.25 460.88h0M131.72 454.56h0M145.2 448.24h0M158.67 441.93h0M172.15 435.62h0M188.32 428.05h0M199.1 423.01h0M212.57 416.71h0M226.05 410.42h0M239.53 404.13h0M253 397.84h0M266.47 391.56h0M279.95 385.28h0M293.42 379h0M306.9 372.73h0" stroke="#6c2c2c"/><path d="M50.88 492.61h0M64.35 486.33h0M77.82 480.05h0M91.3 473.78h0M104.78 467.51h0M118.25 461.24h0M131.72 454.97h0M145.2 448.71h0M158.67 442.45h0M172.15 436.2h0M188.32 428.7h0M199.1 423.7h0M212.57 417.46h0M226.05 411.22h0M239.53 404.99h0M253 398.76h0M266.47 392.53h0M279.95 386.3h0M293.42 380.08h0M306.9 373.86h0" stroke="#808410"/><path d="M50.88 492.67h0M64.35 486.45h0M77.82 480.23h0M91.3 474.01h0M104.78 467.8h0M118.25 461.59h0M131.72 455.38h0M145.2 449.17h0M158.67 442.97h0M172.15 436.77h0M188.32 429.34h0M199.1 424.39h0M212.57 418.2h0M226.05 412.02h0M239.53 405.83h0M253 399.66h0M266.47 393.48h0M279.95 387.31h0M293.42 381.14h0M306.9 374.98h0" stroke="#ff5a0a"/><path d="M50.88 492.73h0M64.35 486.56h0M77.82 480.4h0M91.3 474.24h0M104.78 468.08h0M118.25 461.93h0M131.72 455.78h0M145.2 449.63h0M158.67 443.48h0M172.15 437.34h0M188.32 429.97h0M199.1 425.06h0M212.57 418.93h0M226.05 412.79h0M239.53 406.67h0M253 400.54h0M266.47 394.42h0M279.95 388.3h0M293.42 382.18h0M306.9 376.07h0" stroke="#5c8ee0"/><path d="M50.88 492.79h0M64.35 486.68h0M77.82 480.57h0M91.3 474.47h0M104.78 468.36h0M118.25 462.26h0M131.72 456.17h0M145.2 450.07h0M158.67 443.98h0M172.15 437.89h0M188.32 430.59h0M199.1 425.72h0M212.57 419.64h0M226.05 413.56h0M239.53 407.48h0M253 401.41h0M266.47 395.34h0M279.95 389.27h0M293.42 383.2h0M306.9 377.14h0" stroke="#5eb424"/><path d="M50.88 492.84h0M64.35 486.79h0M77.82 480.74h0M91.3 474.69h0M104.78 468.64h0M118.25 462.59h0M131.72 456.55h0M145.2 450.51h0M158.67 444.47h0M172.15 438.43h0M188.32 431.19h0M199.1 426.37h0M212.57 420.34h0M226.05 414.31h0M239.53 408.29h0M253 402.26h0M266.47 396.24h0M279.95 390.22h0M293.42 384.21h0M306.9 378.19h0" stroke="#3a3a46"/><path d="M50.88 492.9h0M64.35 486.9h0M77.82 480.9h0M91.3 474.9h0M104.78 468.91h0M118.25 462.92h0M131.72 456.93h0M145.2 450.94h0M158.67 444.95h0M172.15 438.97h0M188.32 431.79h0M199.1 427.01h0M212.57 421.03h0M226.05 415.05h0M239.53 409.07h0M253 403.1h0M266.47 397.13h0M279.95 391.16h0M293.42 385.19h0M306.9 379.23h0" stroke="#e8282c"/><path d="M50.88 492.95h0M64.35 487.01h0M77.82 481.06h0M91.3 475.12h0M104.78 469.18h0M118.25 463.24h0M131.72 457.3h0M145.2 451.36h0M158.67 445.43h0M172.15 439.49h0M188.32 432.37h0M199.1 427.63h0M212.57 421.7h0M226.05 415.78h0M239.53 409.85h0M253 403.93h0M266.47 398h0M279.95 392.08h0M293.42 386.17h0M306.9 380.25h0" stroke="#1f52e0"/><path d="M50.88 493h0M64.35 487.11h0M77.82 481.22h0M91.3 475.33h0M104.78 469.44h0M118.25 463.55h0M131.72 457.66h0M145.2 451.78h0M158.67 445.89h0M172.15 440.01h0M188.32 432.95h0M199.1 428.25h0M212.57 422.37h0M226.05 416.49h0M239.53 410.61h0M253 404.74h0M266.47 398.86h0M279.95 392.99h0M293.42 387.12h0M306.9 381.25h0" stroke="#1f9a52"/><path d="M50.88 493.06h0M64.35 487.21h0M77.82 481.37h0M91.3 475.53h0M104.78 469.69h0M118.25 463.86h0M131.72 458.02h0M145.2 452.18h0M158.67 446.35h0M172.15 440.51h0M188.32 433.52h0M199.1 428.85h0M212.57 423.02h0M226.05 417.19h0M239.53 411.36h0M253 405.53h0M266.47 399.71h0M279.95 393.88h0M293.42 388.06h0M306.9 382.23h0" stroke="#a656e6"/><path d="M50.88 493.11h0M64.35 487.32h0M77.82 481.53h0M91.3 475.74h0M104.78 469.95h0M118.25 464.16h0M131.72 458.37h0M145.2 452.58h0M158.67 446.8h0M172.15 441.01h0M188.32 434.07h0M199.1 429.44h0M212.57 423.66h0M226.05 417.88h0M239.53 412.1h0M253 406.32h0M266.47 400.54h0M279.95 394.76h0M293.42 388.98h0M306.9 383.2h0" stroke="#d09400"/><path d="M50.88 493.16h0M64.35 487.42h0M77.82 481.68h0M91.3 475.93h0M104.78 470.19h0M118.25 464.46h0M131.72 458.72h0M145.2 452.98h0M158.67 447.24h0M172.15 441.5h0M188.32 434.62h0M199.1 430.03h0M212.57 424.29h0M226.05 418.56h0M239.53 412.82h0M253 407.09h0M266.47 401.35h0M279.95 395.62h0M293.42 389.89h0M306.9 384.15h0" stroke="#16c6d0"/><path d="M50.88 493.21h0M64.35 487.51h0M77.82 481.82h0M91.3 476.13h0M104.78 470.44h0M118.25 464.75h0M131.72 459.06h0M145.2 453.36h0M158.67 447.67h0M172.15 441.98h0M188.32 435.15h0M199.1 430.6h0M212.57 424.91h0M226.05 419.22h0M239.53 413.53h0M253 407.84h0M266.47 402.16h0M279.95 396.47h0M293.42 390.78h0M306.9 385.09h0" stroke="#6c2c2c"/><path d="M50.88 493.26h0M64.35 487.61h0M77.82 481.97h0M91.3 476.32h0M104.78 470.68h0M118.25 465.03h0M131.72 459.39h0M145.2 453.74h0M158.67 448.1h0M172.15 442.46h0M188.32 435.68h0M199.1 431.17h0M212.57 425.52h0M226.05 419.88h0M239.53 414.23h0M253 408.59h0M266.47 402.95h0M279.95 397.3h0M293.42 391.66h0M306.9 386.01h0" stroke="#808410"/></g></g></svg><rect x="37.6" y="8.3" width="279.8" height="225.5" fill="none" stroke="#3a3a3a" stroke-width="1.2"/><path d="M37.4 233.8v-4M37.4 8.3v4M91.3 233.8v-4M91.3 8.3v4M145.2 233.8v-4M145.2 8.3v4M199.1 233.8v-4M199.1 8.3v4M253 233.8v-4M253 8.3v4M306.9 233.8v-4M306.9 8.3v4M64.35 233.8v-2M64.35 8.3v2M118.25 233.8v-2M118.25 8.3v2M172.15 233.8v-2M172.15 8.3v2M226.05 233.8v-2M226.05 8.3v2M279.95 233.8v-2M279.95 8.3v2M37.6 219.7h4M317.4 219.7h-4M37.6 184.46h4M317.4 184.46h-4M37.6 149.23h4M317.4 149.23h-4M37.6 113.99h4M317.4 113.99h-4M37.6 78.76h4M317.4 78.76h-4M37.6 43.52h4M317.4 43.52h-4M37.6 8.29h4M317.4 8.29h-4M37.6 202.08h2M317.4 202.08h-2M37.6 166.85h2M317.4 166.85h-2M37.6 131.61h2M317.4 131.61h-2M37.6 96.38h2M317.4 96.38h-2M37.6 61.14h2M317.4 61.14h-2M37.6 25.91h2M317.4 25.91h-2" stroke="#3a3a3a" stroke-width="1.2" fill="none"/><g font-size="9.3" fill="#222" stroke="#222" stroke-width="0.18"><text x="32.7" y="223.5" text-anchor="end">0.0</text><text x="32.7" y="188.26" text-anchor="end">0.5</text><text x="32.7" y="153.03" text-anchor="end">1.0</text><text x="32.7" y="117.79" text-anchor="end">1.5</text><text x="32.7" y="82.56" text-anchor="end">2.0</text><text x="32.7" y="47.32" text-anchor="end">2.5</text><text x="32.7" y="12.09" text-anchor="end">3.0</text><text x="37.4" y="245.8" text-anchor="middle">0</text><text x="91.3" y="245.8" text-anchor="middle">1</text><text x="145.2" y="245.8" text-anchor="middle">2</text><text x="199.1" y="245.8" text-anchor="middle">3</text><text x="253" y="245.8" text-anchor="middle">4</text><text x="306.9" y="245.8" text-anchor="middle">5</text></g><rect x="37.8" y="288.4" width="279.7" height="225.3" fill="none" stroke="#3a3a3a" stroke-width="1.2"/><path d="M37.4 513.7v-4M37.4 288.4v4M91.3 513.7v-4M91.3 288.4v4M145.2 513.7v-4M145.2 288.4v4M199.1 513.7v-4M199.1 288.4v4M253 513.7v-4M253 288.4v4M306.9 513.7v-4M306.9 288.4v4M64.35 513.7v-2M64.35 288.4v2M118.25 513.7v-2M118.25 288.4v2M172.15 513.7v-2M172.15 288.4v2M226.05 513.7v-2M226.05 288.4v2M279.95 513.7v-2M279.95 288.4v2M37.8 498.7h4M317.5 498.7h-4M37.8 468.66h4M317.5 468.66h-4M37.8 438.62h4M317.5 438.62h-4M37.8 408.58h4M317.5 408.58h-4M37.8 378.54h4M317.5 378.54h-4M37.8 348.5h4M317.5 348.5h-4M37.8 318.46h4M317.5 318.46h-4M37.8 288.42h4M317.5 288.42h-4M37.8 483.68h2M317.5 483.68h-2M37.8 453.64h2M317.5 453.64h-2M37.8 423.6h2M317.5 423.6h-2M37.8 393.56h2M317.5 393.56h-2M37.8 363.52h2M317.5 363.52h-2M37.8 333.48h2M317.5 333.48h-2M37.8 303.44h2M317.5 303.44h-2" stroke="#3a3a3a" stroke-width="1.2" fill="none"/><g font-size="9.3" fill="#222" stroke="#222" stroke-width="0.18"><text x="32.7" y="502.5" text-anchor="end">0.0</text><text x="32.7" y="472.46" text-anchor="end">0.1</text><text x="32.7" y="442.42" text-anchor="end">0.2</text><text x="32.7" y="412.38" text-anchor="end">0.3</text><text x="32.7" y="382.34" text-anchor="end">0.4</text><text x="32.7" y="352.3" text-anchor="end">0.5</text><text x="32.7" y="322.26" text-anchor="end">0.6</text><text x="32.7" y="292.22" text-anchor="end">0.7</text><text x="37.4" y="526.5" text-anchor="middle">0</text><text x="91.3" y="526.5" text-anchor="middle">1</text><text x="145.2" y="526.5" text-anchor="middle">2</text><text x="199.1" y="526.5" text-anchor="middle">3</text><text x="253" y="526.5" text-anchor="middle">4</text><text x="306.9" y="526.5" text-anchor="middle">5</text></g><g fill="#1a1a1a" stroke="#1a1a1a" stroke-width="0.22"><text x="6.7" y="18" font-size="12.5" stroke-width="0.3">(a)</text><text x="6.7" y="298" font-size="12.5" stroke-width="0.3">(b)</text><text x="55" y="35.5" font-size="11.5" letter-spacing="0.2"><tspan font-style="italic">H</tspan>//c</text><text x="55" y="49.3" font-size="11"><tspan font-style="italic">T</tspan><tspan font-size="8.5" dy="3.8">step</tspan><tspan dy="-3.8"> 0.5 K</tspan></text><text x="53.4" y="311.4" font-size="11.5" letter-spacing="0.2"><tspan font-style="italic">H</tspan>//a</text><text x="53.4" y="324.8" font-size="11"><tspan font-style="italic">T</tspan><tspan font-size="8.5" dy="3.8">step</tspan><tspan dy="-3.8"> 0.5 K</tspan></text><text x="118.2" y="82.3" font-size="12">2 K</text><text x="232" y="214" font-size="12">30 K</text><text x="160.2" y="381" font-size="12">2 K</text><text x="230.3" y="442" font-size="12">30 K</text><text x="177.5" y="265.3" font-size="12" stroke-width="0.3" text-anchor="middle"><tspan font-style="italic">H</tspan> (T)</text><text x="177.5" y="545.4" font-size="12" stroke-width="0.3" text-anchor="middle"><tspan font-style="italic">H</tspan> (T)</text><text transform="translate(13.4 120) rotate(-90)" font-size="11" stroke-width="0.3" text-anchor="middle"><tspan font-style="italic">M</tspan> (μ<tspan font-size="8" dy="2.5">B</tspan><tspan dy="-2.5">/f.u.)</tspan></text><text transform="translate(13.6 396.6) rotate(-90)" font-size="11" stroke-width="0.3" text-anchor="middle"><tspan font-style="italic">M</tspan> (<tspan font-style="italic">μ</tspan><tspan font-size="8" dy="2.5">B</tspan><tspan dy="-2.5">/f.u.)</tspan></text><path d="M139.1 77.7L225.82 207.74" stroke="#666" stroke-width="0.55" fill="none"/><path d="M227.6 210.4L223.94 207.79L226.6 206.02Z" fill="#111"/><path d="M180 376.7L222.8 434.72" stroke="#666" stroke-width="0.55" fill="none"/><path d="M224.7 437.3L220.92 434.87L223.49 432.97Z" fill="#111"/></g></g></svg></body></html>
